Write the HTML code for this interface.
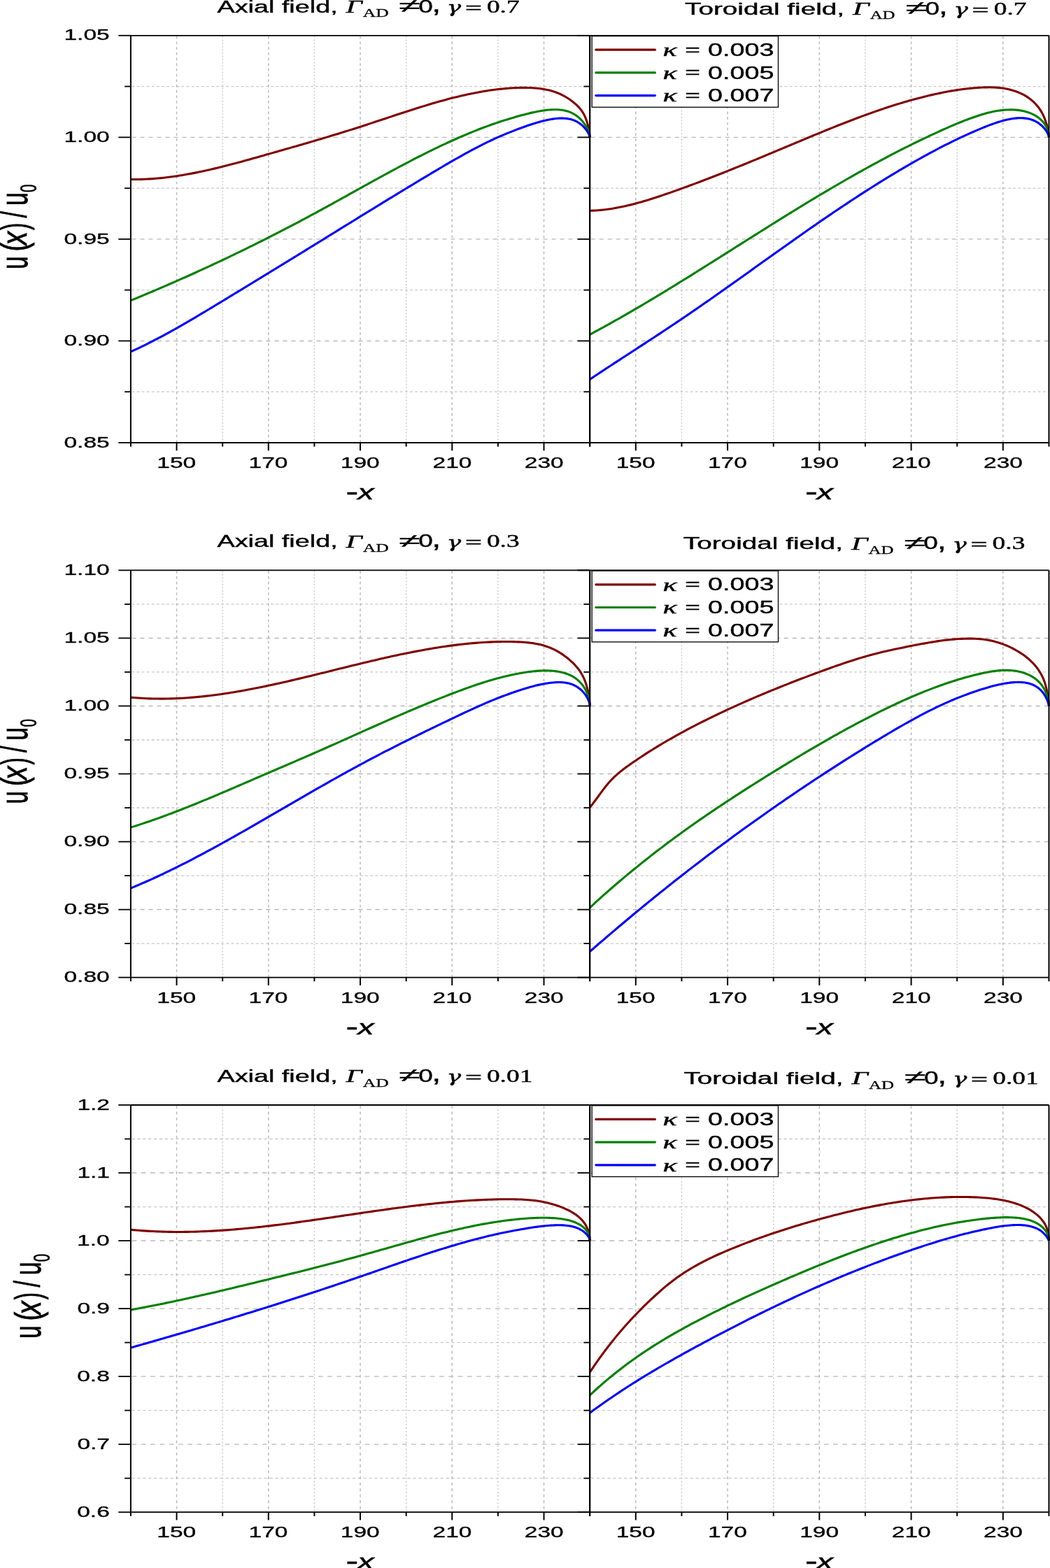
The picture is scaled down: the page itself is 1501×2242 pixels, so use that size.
<!DOCTYPE html>
<html><head><meta charset="utf-8"><title>u(x)/u0 profiles</title>
<style>html,body{margin:0;padding:0;background:#fff;} svg{display:block;}</style></head>
<body><svg xmlns="http://www.w3.org/2000/svg" width="1501" height="2242" viewBox="0 0 1501 2242">
<rect x="0" y="0" width="1501" height="2242" fill="#fff"/>
<line x1="188.40" y1="560.22" x2="843.15" y2="560.22" stroke="#c8c8c8" stroke-width="1.3" stroke-dasharray="3.90 3.20"/>
<line x1="188.40" y1="487.45" x2="843.15" y2="487.45" stroke="#b8b8b8" stroke-width="1.4" stroke-dasharray="6.10 5.90"/>
<line x1="188.40" y1="414.67" x2="843.15" y2="414.67" stroke="#c8c8c8" stroke-width="1.3" stroke-dasharray="3.90 3.20"/>
<line x1="188.40" y1="341.90" x2="843.15" y2="341.90" stroke="#b8b8b8" stroke-width="1.4" stroke-dasharray="6.10 5.90"/>
<line x1="188.40" y1="269.13" x2="843.15" y2="269.13" stroke="#c8c8c8" stroke-width="1.3" stroke-dasharray="3.90 3.20"/>
<line x1="188.40" y1="196.35" x2="843.15" y2="196.35" stroke="#b8b8b8" stroke-width="1.4" stroke-dasharray="6.10 5.90"/>
<line x1="188.40" y1="123.58" x2="843.15" y2="123.58" stroke="#c8c8c8" stroke-width="1.3" stroke-dasharray="3.90 3.20"/>
<line x1="252.53" y1="51.80" x2="252.53" y2="633.00" stroke="#b8b8b8" stroke-width="1.5" stroke-dasharray="3.60 4.10"/>
<line x1="318.15" y1="51.80" x2="318.15" y2="633.00" stroke="#c8c8c8" stroke-width="1.3" stroke-dasharray="2.10 2.50"/>
<line x1="383.77" y1="51.80" x2="383.77" y2="633.00" stroke="#b8b8b8" stroke-width="1.5" stroke-dasharray="3.60 4.10"/>
<line x1="449.40" y1="51.80" x2="449.40" y2="633.00" stroke="#c8c8c8" stroke-width="1.3" stroke-dasharray="2.10 2.50"/>
<line x1="515.02" y1="51.80" x2="515.02" y2="633.00" stroke="#b8b8b8" stroke-width="1.5" stroke-dasharray="3.60 4.10"/>
<line x1="580.65" y1="51.80" x2="580.65" y2="633.00" stroke="#c8c8c8" stroke-width="1.3" stroke-dasharray="2.10 2.50"/>
<line x1="646.27" y1="51.80" x2="646.27" y2="633.00" stroke="#b8b8b8" stroke-width="1.5" stroke-dasharray="3.60 4.10"/>
<line x1="711.90" y1="51.80" x2="711.90" y2="633.00" stroke="#c8c8c8" stroke-width="1.3" stroke-dasharray="2.10 2.50"/>
<line x1="777.52" y1="51.80" x2="777.52" y2="633.00" stroke="#b8b8b8" stroke-width="1.5" stroke-dasharray="3.60 4.10"/>
<line x1="844.70" y1="560.22" x2="1499.45" y2="560.22" stroke="#c8c8c8" stroke-width="1.3" stroke-dasharray="3.90 3.20"/>
<line x1="844.70" y1="487.45" x2="1499.45" y2="487.45" stroke="#b8b8b8" stroke-width="1.4" stroke-dasharray="6.10 5.90"/>
<line x1="844.70" y1="414.67" x2="1499.45" y2="414.67" stroke="#c8c8c8" stroke-width="1.3" stroke-dasharray="3.90 3.20"/>
<line x1="844.70" y1="341.90" x2="1499.45" y2="341.90" stroke="#b8b8b8" stroke-width="1.4" stroke-dasharray="6.10 5.90"/>
<line x1="844.70" y1="269.13" x2="1499.45" y2="269.13" stroke="#c8c8c8" stroke-width="1.3" stroke-dasharray="3.90 3.20"/>
<line x1="844.70" y1="196.35" x2="1499.45" y2="196.35" stroke="#b8b8b8" stroke-width="1.4" stroke-dasharray="6.10 5.90"/>
<line x1="844.70" y1="123.58" x2="1499.45" y2="123.58" stroke="#c8c8c8" stroke-width="1.3" stroke-dasharray="3.90 3.20"/>
<line x1="908.83" y1="51.80" x2="908.83" y2="633.00" stroke="#b8b8b8" stroke-width="1.5" stroke-dasharray="3.60 4.10"/>
<line x1="974.45" y1="51.80" x2="974.45" y2="633.00" stroke="#c8c8c8" stroke-width="1.3" stroke-dasharray="2.10 2.50"/>
<line x1="1040.08" y1="51.80" x2="1040.08" y2="633.00" stroke="#b8b8b8" stroke-width="1.5" stroke-dasharray="3.60 4.10"/>
<line x1="1105.70" y1="51.80" x2="1105.70" y2="633.00" stroke="#c8c8c8" stroke-width="1.3" stroke-dasharray="2.10 2.50"/>
<line x1="1171.33" y1="51.80" x2="1171.33" y2="633.00" stroke="#b8b8b8" stroke-width="1.5" stroke-dasharray="3.60 4.10"/>
<line x1="1236.95" y1="51.80" x2="1236.95" y2="633.00" stroke="#c8c8c8" stroke-width="1.3" stroke-dasharray="2.10 2.50"/>
<line x1="1302.58" y1="51.80" x2="1302.58" y2="633.00" stroke="#b8b8b8" stroke-width="1.5" stroke-dasharray="3.60 4.10"/>
<line x1="1368.20" y1="51.80" x2="1368.20" y2="633.00" stroke="#c8c8c8" stroke-width="1.3" stroke-dasharray="2.10 2.50"/>
<line x1="1433.83" y1="51.80" x2="1433.83" y2="633.00" stroke="#b8b8b8" stroke-width="1.5" stroke-dasharray="3.60 4.10"/>
<line x1="188.40" y1="1349.08" x2="843.15" y2="1349.08" stroke="#c8c8c8" stroke-width="1.3" stroke-dasharray="3.90 3.20"/>
<line x1="188.40" y1="1300.57" x2="843.15" y2="1300.57" stroke="#b8b8b8" stroke-width="1.4" stroke-dasharray="6.10 5.90"/>
<line x1="188.40" y1="1252.05" x2="843.15" y2="1252.05" stroke="#c8c8c8" stroke-width="1.3" stroke-dasharray="3.90 3.20"/>
<line x1="188.40" y1="1203.53" x2="843.15" y2="1203.53" stroke="#b8b8b8" stroke-width="1.4" stroke-dasharray="6.10 5.90"/>
<line x1="188.40" y1="1155.02" x2="843.15" y2="1155.02" stroke="#c8c8c8" stroke-width="1.3" stroke-dasharray="3.90 3.20"/>
<line x1="188.40" y1="1106.50" x2="843.15" y2="1106.50" stroke="#b8b8b8" stroke-width="1.4" stroke-dasharray="6.10 5.90"/>
<line x1="188.40" y1="1057.98" x2="843.15" y2="1057.98" stroke="#c8c8c8" stroke-width="1.3" stroke-dasharray="3.90 3.20"/>
<line x1="188.40" y1="1009.47" x2="843.15" y2="1009.47" stroke="#b8b8b8" stroke-width="1.4" stroke-dasharray="6.10 5.90"/>
<line x1="188.40" y1="960.95" x2="843.15" y2="960.95" stroke="#c8c8c8" stroke-width="1.3" stroke-dasharray="3.90 3.20"/>
<line x1="188.40" y1="912.43" x2="843.15" y2="912.43" stroke="#b8b8b8" stroke-width="1.4" stroke-dasharray="6.10 5.90"/>
<line x1="188.40" y1="863.92" x2="843.15" y2="863.92" stroke="#c8c8c8" stroke-width="1.3" stroke-dasharray="3.90 3.20"/>
<line x1="252.53" y1="816.40" x2="252.53" y2="1397.60" stroke="#b8b8b8" stroke-width="1.5" stroke-dasharray="3.60 4.10"/>
<line x1="318.15" y1="816.40" x2="318.15" y2="1397.60" stroke="#c8c8c8" stroke-width="1.3" stroke-dasharray="2.10 2.50"/>
<line x1="383.77" y1="816.40" x2="383.77" y2="1397.60" stroke="#b8b8b8" stroke-width="1.5" stroke-dasharray="3.60 4.10"/>
<line x1="449.40" y1="816.40" x2="449.40" y2="1397.60" stroke="#c8c8c8" stroke-width="1.3" stroke-dasharray="2.10 2.50"/>
<line x1="515.02" y1="816.40" x2="515.02" y2="1397.60" stroke="#b8b8b8" stroke-width="1.5" stroke-dasharray="3.60 4.10"/>
<line x1="580.65" y1="816.40" x2="580.65" y2="1397.60" stroke="#c8c8c8" stroke-width="1.3" stroke-dasharray="2.10 2.50"/>
<line x1="646.27" y1="816.40" x2="646.27" y2="1397.60" stroke="#b8b8b8" stroke-width="1.5" stroke-dasharray="3.60 4.10"/>
<line x1="711.90" y1="816.40" x2="711.90" y2="1397.60" stroke="#c8c8c8" stroke-width="1.3" stroke-dasharray="2.10 2.50"/>
<line x1="777.52" y1="816.40" x2="777.52" y2="1397.60" stroke="#b8b8b8" stroke-width="1.5" stroke-dasharray="3.60 4.10"/>
<line x1="844.70" y1="1349.08" x2="1499.45" y2="1349.08" stroke="#c8c8c8" stroke-width="1.3" stroke-dasharray="3.90 3.20"/>
<line x1="844.70" y1="1300.57" x2="1499.45" y2="1300.57" stroke="#b8b8b8" stroke-width="1.4" stroke-dasharray="6.10 5.90"/>
<line x1="844.70" y1="1252.05" x2="1499.45" y2="1252.05" stroke="#c8c8c8" stroke-width="1.3" stroke-dasharray="3.90 3.20"/>
<line x1="844.70" y1="1203.53" x2="1499.45" y2="1203.53" stroke="#b8b8b8" stroke-width="1.4" stroke-dasharray="6.10 5.90"/>
<line x1="844.70" y1="1155.02" x2="1499.45" y2="1155.02" stroke="#c8c8c8" stroke-width="1.3" stroke-dasharray="3.90 3.20"/>
<line x1="844.70" y1="1106.50" x2="1499.45" y2="1106.50" stroke="#b8b8b8" stroke-width="1.4" stroke-dasharray="6.10 5.90"/>
<line x1="844.70" y1="1057.98" x2="1499.45" y2="1057.98" stroke="#c8c8c8" stroke-width="1.3" stroke-dasharray="3.90 3.20"/>
<line x1="844.70" y1="1009.47" x2="1499.45" y2="1009.47" stroke="#b8b8b8" stroke-width="1.4" stroke-dasharray="6.10 5.90"/>
<line x1="844.70" y1="960.95" x2="1499.45" y2="960.95" stroke="#c8c8c8" stroke-width="1.3" stroke-dasharray="3.90 3.20"/>
<line x1="844.70" y1="912.43" x2="1499.45" y2="912.43" stroke="#b8b8b8" stroke-width="1.4" stroke-dasharray="6.10 5.90"/>
<line x1="844.70" y1="863.92" x2="1499.45" y2="863.92" stroke="#c8c8c8" stroke-width="1.3" stroke-dasharray="3.90 3.20"/>
<line x1="908.83" y1="816.40" x2="908.83" y2="1397.60" stroke="#b8b8b8" stroke-width="1.5" stroke-dasharray="3.60 4.10"/>
<line x1="974.45" y1="816.40" x2="974.45" y2="1397.60" stroke="#c8c8c8" stroke-width="1.3" stroke-dasharray="2.10 2.50"/>
<line x1="1040.08" y1="816.40" x2="1040.08" y2="1397.60" stroke="#b8b8b8" stroke-width="1.5" stroke-dasharray="3.60 4.10"/>
<line x1="1105.70" y1="816.40" x2="1105.70" y2="1397.60" stroke="#c8c8c8" stroke-width="1.3" stroke-dasharray="2.10 2.50"/>
<line x1="1171.33" y1="816.40" x2="1171.33" y2="1397.60" stroke="#b8b8b8" stroke-width="1.5" stroke-dasharray="3.60 4.10"/>
<line x1="1236.95" y1="816.40" x2="1236.95" y2="1397.60" stroke="#c8c8c8" stroke-width="1.3" stroke-dasharray="2.10 2.50"/>
<line x1="1302.58" y1="816.40" x2="1302.58" y2="1397.60" stroke="#b8b8b8" stroke-width="1.5" stroke-dasharray="3.60 4.10"/>
<line x1="1368.20" y1="816.40" x2="1368.20" y2="1397.60" stroke="#c8c8c8" stroke-width="1.3" stroke-dasharray="2.10 2.50"/>
<line x1="1433.83" y1="816.40" x2="1433.83" y2="1397.60" stroke="#b8b8b8" stroke-width="1.5" stroke-dasharray="3.60 4.10"/>
<line x1="188.40" y1="2113.68" x2="843.15" y2="2113.68" stroke="#c8c8c8" stroke-width="1.3" stroke-dasharray="4.33 3.55"/>
<line x1="188.40" y1="2065.17" x2="843.15" y2="2065.17" stroke="#b8b8b8" stroke-width="1.4" stroke-dasharray="6.77 6.55"/>
<line x1="188.40" y1="2016.65" x2="843.15" y2="2016.65" stroke="#c8c8c8" stroke-width="1.3" stroke-dasharray="4.33 3.55"/>
<line x1="188.40" y1="1968.13" x2="843.15" y2="1968.13" stroke="#b8b8b8" stroke-width="1.4" stroke-dasharray="6.77 6.55"/>
<line x1="188.40" y1="1919.62" x2="843.15" y2="1919.62" stroke="#c8c8c8" stroke-width="1.3" stroke-dasharray="4.33 3.55"/>
<line x1="188.40" y1="1871.10" x2="843.15" y2="1871.10" stroke="#b8b8b8" stroke-width="1.4" stroke-dasharray="6.77 6.55"/>
<line x1="188.40" y1="1822.58" x2="843.15" y2="1822.58" stroke="#c8c8c8" stroke-width="1.3" stroke-dasharray="4.33 3.55"/>
<line x1="188.40" y1="1774.07" x2="843.15" y2="1774.07" stroke="#b8b8b8" stroke-width="1.4" stroke-dasharray="6.77 6.55"/>
<line x1="188.40" y1="1725.55" x2="843.15" y2="1725.55" stroke="#c8c8c8" stroke-width="1.3" stroke-dasharray="4.33 3.55"/>
<line x1="188.40" y1="1677.03" x2="843.15" y2="1677.03" stroke="#b8b8b8" stroke-width="1.4" stroke-dasharray="6.77 6.55"/>
<line x1="188.40" y1="1628.52" x2="843.15" y2="1628.52" stroke="#c8c8c8" stroke-width="1.3" stroke-dasharray="4.33 3.55"/>
<line x1="252.53" y1="1581.00" x2="252.53" y2="2162.20" stroke="#b8b8b8" stroke-width="1.5" stroke-dasharray="4.00 4.55"/>
<line x1="318.15" y1="1581.00" x2="318.15" y2="2162.20" stroke="#c8c8c8" stroke-width="1.3" stroke-dasharray="2.33 2.78"/>
<line x1="383.77" y1="1581.00" x2="383.77" y2="2162.20" stroke="#b8b8b8" stroke-width="1.5" stroke-dasharray="4.00 4.55"/>
<line x1="449.40" y1="1581.00" x2="449.40" y2="2162.20" stroke="#c8c8c8" stroke-width="1.3" stroke-dasharray="2.33 2.78"/>
<line x1="515.02" y1="1581.00" x2="515.02" y2="2162.20" stroke="#b8b8b8" stroke-width="1.5" stroke-dasharray="4.00 4.55"/>
<line x1="580.65" y1="1581.00" x2="580.65" y2="2162.20" stroke="#c8c8c8" stroke-width="1.3" stroke-dasharray="2.33 2.78"/>
<line x1="646.27" y1="1581.00" x2="646.27" y2="2162.20" stroke="#b8b8b8" stroke-width="1.5" stroke-dasharray="4.00 4.55"/>
<line x1="711.90" y1="1581.00" x2="711.90" y2="2162.20" stroke="#c8c8c8" stroke-width="1.3" stroke-dasharray="2.33 2.78"/>
<line x1="777.52" y1="1581.00" x2="777.52" y2="2162.20" stroke="#b8b8b8" stroke-width="1.5" stroke-dasharray="4.00 4.55"/>
<line x1="844.70" y1="2113.68" x2="1499.45" y2="2113.68" stroke="#c8c8c8" stroke-width="1.3" stroke-dasharray="4.33 3.55"/>
<line x1="844.70" y1="2065.17" x2="1499.45" y2="2065.17" stroke="#b8b8b8" stroke-width="1.4" stroke-dasharray="6.77 6.55"/>
<line x1="844.70" y1="2016.65" x2="1499.45" y2="2016.65" stroke="#c8c8c8" stroke-width="1.3" stroke-dasharray="4.33 3.55"/>
<line x1="844.70" y1="1968.13" x2="1499.45" y2="1968.13" stroke="#b8b8b8" stroke-width="1.4" stroke-dasharray="6.77 6.55"/>
<line x1="844.70" y1="1919.62" x2="1499.45" y2="1919.62" stroke="#c8c8c8" stroke-width="1.3" stroke-dasharray="4.33 3.55"/>
<line x1="844.70" y1="1871.10" x2="1499.45" y2="1871.10" stroke="#b8b8b8" stroke-width="1.4" stroke-dasharray="6.77 6.55"/>
<line x1="844.70" y1="1822.58" x2="1499.45" y2="1822.58" stroke="#c8c8c8" stroke-width="1.3" stroke-dasharray="4.33 3.55"/>
<line x1="844.70" y1="1774.07" x2="1499.45" y2="1774.07" stroke="#b8b8b8" stroke-width="1.4" stroke-dasharray="6.77 6.55"/>
<line x1="844.70" y1="1725.55" x2="1499.45" y2="1725.55" stroke="#c8c8c8" stroke-width="1.3" stroke-dasharray="4.33 3.55"/>
<line x1="844.70" y1="1677.03" x2="1499.45" y2="1677.03" stroke="#b8b8b8" stroke-width="1.4" stroke-dasharray="6.77 6.55"/>
<line x1="844.70" y1="1628.52" x2="1499.45" y2="1628.52" stroke="#c8c8c8" stroke-width="1.3" stroke-dasharray="4.33 3.55"/>
<line x1="908.83" y1="1581.00" x2="908.83" y2="2162.20" stroke="#b8b8b8" stroke-width="1.5" stroke-dasharray="4.00 4.55"/>
<line x1="974.45" y1="1581.00" x2="974.45" y2="2162.20" stroke="#c8c8c8" stroke-width="1.3" stroke-dasharray="2.33 2.78"/>
<line x1="1040.08" y1="1581.00" x2="1040.08" y2="2162.20" stroke="#b8b8b8" stroke-width="1.5" stroke-dasharray="4.00 4.55"/>
<line x1="1105.70" y1="1581.00" x2="1105.70" y2="2162.20" stroke="#c8c8c8" stroke-width="1.3" stroke-dasharray="2.33 2.78"/>
<line x1="1171.33" y1="1581.00" x2="1171.33" y2="2162.20" stroke="#b8b8b8" stroke-width="1.5" stroke-dasharray="4.00 4.55"/>
<line x1="1236.95" y1="1581.00" x2="1236.95" y2="2162.20" stroke="#c8c8c8" stroke-width="1.3" stroke-dasharray="2.33 2.78"/>
<line x1="1302.58" y1="1581.00" x2="1302.58" y2="2162.20" stroke="#b8b8b8" stroke-width="1.5" stroke-dasharray="4.00 4.55"/>
<line x1="1368.20" y1="1581.00" x2="1368.20" y2="2162.20" stroke="#c8c8c8" stroke-width="1.3" stroke-dasharray="2.33 2.78"/>
<line x1="1433.83" y1="1581.00" x2="1433.83" y2="2162.20" stroke="#b8b8b8" stroke-width="1.5" stroke-dasharray="4.00 4.55"/>
<path d="M186.90,256.45 L190.78,256.50 L194.66,256.49 L198.54,256.45 L202.42,256.36 L206.31,256.23 L210.19,256.05 L214.07,255.84 L217.95,255.59 L221.83,255.29 L225.71,254.96 L229.59,254.60 L233.48,254.19 L237.36,253.75 L241.24,253.28 L245.12,252.78 L249.00,252.24 L252.88,251.67 L256.76,251.07 L260.64,250.44 L264.52,249.78 L268.41,249.09 L272.29,248.38 L276.17,247.64 L280.05,246.87 L283.93,246.08 L287.81,245.27 L291.69,244.43 L295.57,243.57 L299.46,242.70 L303.34,241.80 L307.22,240.88 L311.10,239.95 L314.98,239.00 L318.86,238.03 L322.74,237.04 L326.62,236.05 L330.51,235.04 L334.39,234.01 L338.27,232.98 L342.15,231.93 L346.03,230.88 L349.91,229.81 L353.79,228.74 L357.67,227.66 L361.56,226.57 L365.44,225.48 L369.32,224.39 L373.20,223.29 L377.08,222.19 L380.96,221.08 L384.84,219.98 L388.72,218.88 L392.61,217.77 L396.49,216.67 L400.37,215.56 L404.25,214.45 L408.13,213.34 L412.01,212.23 L415.89,211.12 L419.77,210.01 L423.66,208.89 L427.54,207.77 L431.42,206.64 L435.30,205.52 L439.18,204.39 L443.06,203.26 L446.94,202.12 L450.82,200.98 L454.71,199.83 L458.59,198.68 L462.47,197.53 L466.35,196.36 L470.23,195.20 L474.11,194.03 L477.99,192.85 L481.87,191.66 L485.76,190.47 L489.64,189.28 L493.52,188.07 L497.40,186.86 L501.28,185.64 L505.16,184.42 L509.04,183.18 L512.92,181.94 L516.81,180.69 L520.69,179.43 L524.57,178.16 L528.45,176.89 L532.33,175.61 L536.21,174.33 L540.09,173.05 L543.97,171.76 L547.86,170.47 L551.74,169.18 L555.62,167.89 L559.50,166.60 L563.38,165.31 L567.26,164.03 L571.14,162.75 L575.02,161.48 L578.91,160.22 L582.79,158.96 L586.67,157.71 L590.55,156.46 L594.43,155.23 L598.31,154.01 L602.19,152.80 L606.07,151.61 L609.96,150.43 L613.84,149.26 L617.72,148.11 L621.60,146.97 L625.48,145.86 L629.36,144.76 L633.24,143.68 L637.12,142.63 L641.01,141.59 L644.89,140.58 L648.77,139.59 L652.65,138.63 L656.53,137.69 L660.41,136.78 L664.29,135.90 L668.17,135.04 L672.06,134.21 L675.94,133.42 L679.82,132.65 L683.70,131.92 L687.58,131.22 L691.46,130.56 L695.34,129.93 L699.22,129.33 L703.11,128.78 L706.99,128.26 L710.87,127.78 L714.75,127.34 L718.63,126.95 L722.51,126.59 L726.37,126.28 L730.17,126.01 L733.90,125.78 L737.58,125.61 L741.18,125.48 L744.73,125.39 L748.21,125.36 L751.64,125.37 L754.99,125.44 L758.29,125.56 L761.52,125.73 L764.69,125.95 L767.80,126.23 L770.84,126.56 L773.82,126.95 L776.74,127.40 L779.60,127.91 L782.39,128.48 L785.12,129.11 L787.79,129.80 L790.39,130.56 L792.94,131.37 L795.42,132.26 L797.83,133.20 L800.19,134.21 L802.48,135.27 L804.71,136.38 L806.87,137.54 L808.97,138.74 L811.01,139.99 L812.99,141.27 L814.90,142.58 L816.76,143.92 L818.55,145.28 L820.27,146.67 L821.93,148.07 L823.54,149.49 L825.07,150.93 L826.55,152.41 L827.96,153.92 L829.31,155.48 L830.60,157.10 L831.82,158.78 L832.98,160.53 L834.08,162.37 L835.12,164.29 L836.09,166.30 L837.00,168.43 L837.85,170.65 L838.63,172.96 L839.35,175.32 L840.01,177.71 L840.61,180.09 L841.14,182.43 L841.61,184.71 L842.02,186.89 L842.37,188.95 L842.65,190.86 L842.87,192.58 L843.02,194.09 L843.12,195.35 L843.15,196.35" fill="none" stroke="#800000" stroke-width="3.1" stroke-linejoin="round"/>
<path d="M186.90,429.69 L190.78,428.10 L194.66,426.50 L198.54,424.89 L202.42,423.27 L206.31,421.65 L210.19,420.02 L214.07,418.39 L217.95,416.74 L221.83,415.09 L225.71,413.44 L229.59,411.77 L233.48,410.10 L237.36,408.42 L241.24,406.74 L245.12,405.04 L249.00,403.34 L252.88,401.64 L256.76,399.92 L260.64,398.20 L264.52,396.47 L268.41,394.73 L272.29,392.99 L276.17,391.24 L280.05,389.48 L283.93,387.71 L287.81,385.94 L291.69,384.16 L295.57,382.37 L299.46,380.57 L303.34,378.77 L307.22,376.96 L311.10,375.14 L314.98,373.32 L318.86,371.48 L322.74,369.64 L326.62,367.79 L330.51,365.94 L334.39,364.07 L338.27,362.20 L342.15,360.32 L346.03,358.44 L349.91,356.54 L353.79,354.64 L357.67,352.73 L361.56,350.81 L365.44,348.89 L369.32,346.95 L373.20,345.01 L377.08,343.06 L380.96,341.11 L384.84,339.14 L388.72,337.17 L392.61,335.19 L396.49,333.20 L400.37,331.21 L404.25,329.20 L408.13,327.19 L412.01,325.17 L415.89,323.14 L419.77,321.11 L423.66,319.07 L427.54,317.01 L431.42,314.95 L435.30,312.89 L439.18,310.81 L443.06,308.73 L446.94,306.63 L450.82,304.53 L454.71,302.43 L458.59,300.31 L462.47,298.19 L466.35,296.06 L470.23,293.93 L474.11,291.79 L477.99,289.64 L481.87,287.50 L485.76,285.35 L489.64,283.19 L493.52,281.04 L497.40,278.88 L501.28,276.73 L505.16,274.57 L509.04,272.41 L512.92,270.26 L516.81,268.10 L520.69,265.95 L524.57,263.80 L528.45,261.65 L532.33,259.51 L536.21,257.37 L540.09,255.24 L543.97,253.11 L547.86,250.99 L551.74,248.88 L555.62,246.77 L559.50,244.67 L563.38,242.58 L567.26,240.50 L571.14,238.43 L575.02,236.37 L578.91,234.32 L582.79,232.28 L586.67,230.25 L590.55,228.24 L594.43,226.24 L598.31,224.25 L602.19,222.28 L606.07,220.33 L609.96,218.39 L613.84,216.46 L617.72,214.55 L621.60,212.66 L625.48,210.79 L629.36,208.94 L633.24,207.11 L637.12,205.29 L641.01,203.50 L644.89,201.73 L648.77,199.97 L652.65,198.25 L656.53,196.54 L660.41,194.86 L664.29,193.20 L668.17,191.57 L672.06,189.96 L675.94,188.37 L679.82,186.82 L683.70,185.29 L687.58,183.79 L691.46,182.31 L695.34,180.87 L699.22,179.45 L703.11,178.07 L706.99,176.71 L710.87,175.39 L714.75,174.09 L718.63,172.84 L722.51,171.61 L726.37,170.42 L730.17,169.27 L733.90,168.16 L737.58,167.09 L741.18,166.06 L744.73,165.08 L748.21,164.14 L751.64,163.25 L754.99,162.41 L758.29,161.62 L761.52,160.88 L764.69,160.19 L767.80,159.57 L770.84,158.99 L773.82,158.48 L776.74,158.03 L779.60,157.64 L782.39,157.31 L785.12,157.05 L787.79,156.86 L790.39,156.73 L792.94,156.68 L795.42,156.70 L797.83,156.79 L800.19,156.95 L802.48,157.19 L804.71,157.51 L806.87,157.91 L808.97,158.40 L811.01,158.96 L812.99,159.61 L814.90,160.34 L816.76,161.16 L818.55,162.04 L820.27,163.00 L821.93,164.02 L823.54,165.09 L825.07,166.23 L826.55,167.41 L827.96,168.63 L829.31,169.89 L830.60,171.19 L831.82,172.51 L832.98,173.86 L834.08,175.23 L835.12,176.61 L836.09,177.99 L837.00,179.38 L837.85,180.77 L838.63,182.15 L839.35,183.52 L840.01,184.88 L840.61,186.21 L841.14,187.51 L841.61,188.78 L842.02,190.02 L842.37,191.21 L842.65,192.35 L842.87,193.44 L843.02,194.48 L843.12,195.45 L843.15,196.35" fill="none" stroke="#008000" stroke-width="3.1" stroke-linejoin="round"/>
<path d="M186.90,502.90 L190.78,501.15 L194.66,499.35 L198.54,497.53 L202.42,495.67 L206.31,493.78 L210.19,491.86 L214.07,489.91 L217.95,487.93 L221.83,485.93 L225.71,483.90 L229.59,481.84 L233.48,479.76 L237.36,477.66 L241.24,475.54 L245.12,473.39 L249.00,471.23 L252.88,469.04 L256.76,466.84 L260.64,464.62 L264.52,462.38 L268.41,460.13 L272.29,457.87 L276.17,455.59 L280.05,453.30 L283.93,451.00 L287.81,448.69 L291.69,446.37 L295.57,444.04 L299.46,441.71 L303.34,439.37 L307.22,437.02 L311.10,434.67 L314.98,432.32 L318.86,429.96 L322.74,427.61 L326.62,425.25 L330.51,422.89 L334.39,420.54 L338.27,418.18 L342.15,415.82 L346.03,413.45 L349.91,411.09 L353.79,408.73 L357.67,406.36 L361.56,404.00 L365.44,401.63 L369.32,399.26 L373.20,396.89 L377.08,394.52 L380.96,392.15 L384.84,389.78 L388.72,387.40 L392.61,385.03 L396.49,382.65 L400.37,380.27 L404.25,377.89 L408.13,375.51 L412.01,373.13 L415.89,370.75 L419.77,368.37 L423.66,365.98 L427.54,363.60 L431.42,361.21 L435.30,358.82 L439.18,356.44 L443.06,354.04 L446.94,351.65 L450.82,349.26 L454.71,346.87 L458.59,344.47 L462.47,342.08 L466.35,339.68 L470.23,337.28 L474.11,334.89 L477.99,332.49 L481.87,330.09 L485.76,327.69 L489.64,325.29 L493.52,322.90 L497.40,320.50 L501.28,318.10 L505.16,315.71 L509.04,313.31 L512.92,310.92 L516.81,308.53 L520.69,306.13 L524.57,303.74 L528.45,301.35 L532.33,298.97 L536.21,296.58 L540.09,294.20 L543.97,291.82 L547.86,289.44 L551.74,287.06 L555.62,284.69 L559.50,282.32 L563.38,279.95 L567.26,277.58 L571.14,275.22 L575.02,272.86 L578.91,270.51 L582.79,268.15 L586.67,265.80 L590.55,263.46 L594.43,261.12 L598.31,258.78 L602.19,256.45 L606.07,254.12 L609.96,251.80 L613.84,249.48 L617.72,247.16 L621.60,244.85 L625.48,242.55 L629.36,240.25 L633.24,237.97 L637.12,235.69 L641.01,233.43 L644.89,231.18 L648.77,228.94 L652.65,226.73 L656.53,224.53 L660.41,222.35 L664.29,220.19 L668.17,218.06 L672.06,215.96 L675.94,213.88 L679.82,211.83 L683.70,209.81 L687.58,207.83 L691.46,205.87 L695.34,203.96 L699.22,202.08 L703.11,200.24 L706.99,198.44 L710.87,196.68 L714.75,194.97 L718.63,193.30 L722.51,191.68 L726.37,190.10 L730.17,188.58 L733.90,187.10 L737.58,185.67 L741.18,184.30 L744.73,182.97 L748.21,181.70 L751.64,180.49 L754.99,179.33 L758.29,178.23 L761.52,177.18 L764.69,176.19 L767.80,175.27 L770.84,174.40 L773.82,173.60 L776.74,172.85 L779.60,172.17 L782.39,171.56 L785.12,171.01 L787.79,170.53 L790.39,170.12 L792.94,169.77 L795.42,169.50 L797.83,169.29 L800.19,169.16 L802.48,169.10 L804.71,169.11 L806.87,169.20 L808.97,169.37 L811.01,169.61 L812.99,169.93 L814.90,170.33 L816.76,170.81 L818.55,171.36 L820.27,171.98 L821.93,172.67 L823.54,173.42 L825.07,174.22 L826.55,175.08 L827.96,175.98 L829.31,176.93 L830.60,177.91 L831.82,178.93 L832.98,179.97 L834.08,181.04 L835.12,182.13 L836.09,183.22 L837.00,184.32 L837.85,185.42 L838.63,186.51 L839.35,187.58 L840.01,188.63 L840.61,189.65 L841.14,190.63 L841.61,191.57 L842.02,192.46 L842.37,193.29 L842.65,194.06 L842.87,194.76 L843.02,195.38 L843.12,195.91 L843.15,196.36" fill="none" stroke="#0000ff" stroke-width="3.1" stroke-linejoin="round"/>
<path d="M843.20,301.29 L847.08,301.17 L850.96,300.97 L854.84,300.71 L858.73,300.38 L862.61,299.98 L866.49,299.52 L870.37,299.00 L874.25,298.42 L878.13,297.78 L882.01,297.09 L885.89,296.34 L889.78,295.54 L893.66,294.70 L897.54,293.81 L901.42,292.87 L905.30,291.89 L909.18,290.87 L913.06,289.81 L916.94,288.71 L920.83,287.58 L924.71,286.42 L928.59,285.23 L932.47,284.01 L936.35,282.76 L940.23,281.49 L944.11,280.20 L947.99,278.89 L951.88,277.56 L955.76,276.22 L959.64,274.86 L963.52,273.49 L967.40,272.11 L971.28,270.72 L975.16,269.32 L979.04,267.91 L982.92,266.48 L986.81,265.05 L990.69,263.61 L994.57,262.16 L998.45,260.70 L1002.33,259.23 L1006.21,257.76 L1010.09,256.27 L1013.97,254.78 L1017.86,253.27 L1021.74,251.76 L1025.62,250.25 L1029.50,248.72 L1033.38,247.19 L1037.26,245.65 L1041.14,244.11 L1045.03,242.56 L1048.91,241.00 L1052.79,239.43 L1056.67,237.86 L1060.55,236.29 L1064.43,234.71 L1068.31,233.12 L1072.19,231.53 L1076.08,229.94 L1079.96,228.34 L1083.84,226.73 L1087.72,225.12 L1091.60,223.51 L1095.48,221.90 L1099.36,220.28 L1103.24,218.66 L1107.12,217.03 L1111.01,215.41 L1114.89,213.78 L1118.77,212.15 L1122.65,210.52 L1126.53,208.88 L1130.41,207.25 L1134.29,205.62 L1138.17,203.99 L1142.06,202.36 L1145.94,200.74 L1149.82,199.11 L1153.70,197.49 L1157.58,195.88 L1161.46,194.27 L1165.34,192.66 L1169.23,191.06 L1173.11,189.46 L1176.99,187.87 L1180.87,186.29 L1184.75,184.72 L1188.63,183.15 L1192.51,181.59 L1196.39,180.04 L1200.28,178.50 L1204.16,176.97 L1208.04,175.46 L1211.92,173.95 L1215.80,172.45 L1219.68,170.97 L1223.56,169.50 L1227.44,168.04 L1231.33,166.60 L1235.21,165.17 L1239.09,163.75 L1242.97,162.35 L1246.85,160.97 L1250.73,159.60 L1254.61,158.25 L1258.49,156.92 L1262.38,155.61 L1266.26,154.31 L1270.14,153.04 L1274.02,151.78 L1277.90,150.54 L1281.78,149.33 L1285.66,148.13 L1289.54,146.96 L1293.42,145.81 L1297.31,144.68 L1301.19,143.57 L1305.07,142.49 L1308.95,141.43 L1312.83,140.40 L1316.71,139.40 L1320.59,138.42 L1324.47,137.46 L1328.36,136.53 L1332.24,135.63 L1336.12,134.76 L1340.00,133.92 L1343.88,133.11 L1347.76,132.32 L1351.64,131.57 L1355.53,130.84 L1359.41,130.15 L1363.29,129.50 L1367.17,128.88 L1371.05,128.30 L1374.93,127.75 L1378.81,127.25 L1382.67,126.79 L1386.47,126.37 L1390.20,126.00 L1393.88,125.68 L1397.48,125.41 L1401.03,125.18 L1404.51,125.01 L1407.94,124.89 L1411.29,124.83 L1414.59,124.82 L1417.82,124.88 L1420.99,124.99 L1424.10,125.16 L1427.14,125.40 L1430.12,125.70 L1433.04,126.07 L1435.90,126.51 L1438.69,127.01 L1441.42,127.58 L1444.09,128.21 L1446.69,128.90 L1449.24,129.66 L1451.72,130.48 L1454.13,131.36 L1456.49,132.30 L1458.78,133.30 L1461.01,134.36 L1463.17,135.47 L1465.27,136.65 L1467.31,137.88 L1469.29,139.16 L1471.20,140.50 L1473.06,141.90 L1474.85,143.35 L1476.57,144.85 L1478.23,146.41 L1479.84,148.03 L1481.37,149.70 L1482.85,151.42 L1484.26,153.20 L1485.61,155.03 L1486.90,156.92 L1488.12,158.87 L1489.28,160.87 L1490.38,162.93 L1491.42,165.04 L1492.39,167.20 L1493.30,169.41 L1494.15,171.65 L1494.93,173.90 L1495.65,176.15 L1496.31,178.38 L1496.91,180.58 L1497.44,182.73 L1497.91,184.81 L1498.32,186.82 L1498.67,188.73 L1498.95,190.54 L1499.17,192.22 L1499.32,193.76 L1499.42,195.14 L1499.45,196.35" fill="none" stroke="#800000" stroke-width="3.1" stroke-linejoin="round"/>
<path d="M843.20,478.33 L847.08,476.26 L850.96,474.17 L854.84,472.07 L858.73,469.96 L862.61,467.84 L866.49,465.70 L870.37,463.55 L874.25,461.38 L878.13,459.21 L882.01,457.02 L885.89,454.82 L889.78,452.60 L893.66,450.38 L897.54,448.14 L901.42,445.90 L905.30,443.64 L909.18,441.38 L913.06,439.10 L916.94,436.81 L920.83,434.52 L924.71,432.21 L928.59,429.90 L932.47,427.57 L936.35,425.24 L940.23,422.91 L944.11,420.56 L947.99,418.20 L951.88,415.84 L955.76,413.47 L959.64,411.10 L963.52,408.72 L967.40,406.33 L971.28,403.94 L975.16,401.54 L979.04,399.13 L982.92,396.72 L986.81,394.31 L990.69,391.89 L994.57,389.47 L998.45,387.04 L1002.33,384.61 L1006.21,382.18 L1010.09,379.74 L1013.97,377.30 L1017.86,374.86 L1021.74,372.41 L1025.62,369.97 L1029.50,367.52 L1033.38,365.07 L1037.26,362.62 L1041.14,360.16 L1045.03,357.71 L1048.91,355.26 L1052.79,352.80 L1056.67,350.35 L1060.55,347.90 L1064.43,345.45 L1068.31,343.00 L1072.19,340.55 L1076.08,338.10 L1079.96,335.65 L1083.84,333.21 L1087.72,330.77 L1091.60,328.33 L1095.48,325.89 L1099.36,323.46 L1103.24,321.03 L1107.12,318.60 L1111.01,316.18 L1114.89,313.76 L1118.77,311.35 L1122.65,308.94 L1126.53,306.54 L1130.41,304.14 L1134.29,301.75 L1138.17,299.37 L1142.06,296.99 L1145.94,294.61 L1149.82,292.25 L1153.70,289.89 L1157.58,287.53 L1161.46,285.19 L1165.34,282.85 L1169.23,280.53 L1173.11,278.21 L1176.99,275.89 L1180.87,273.59 L1184.75,271.30 L1188.63,269.01 L1192.51,266.74 L1196.39,264.47 L1200.28,262.22 L1204.16,259.97 L1208.04,257.74 L1211.92,255.51 L1215.80,253.30 L1219.68,251.09 L1223.56,248.90 L1227.44,246.72 L1231.33,244.55 L1235.21,242.39 L1239.09,240.24 L1242.97,238.10 L1246.85,235.98 L1250.73,233.87 L1254.61,231.77 L1258.49,229.68 L1262.38,227.60 L1266.26,225.54 L1270.14,223.49 L1274.02,221.46 L1277.90,219.43 L1281.78,217.43 L1285.66,215.43 L1289.54,213.45 L1293.42,211.48 L1297.31,209.53 L1301.19,207.59 L1305.07,205.67 L1308.95,203.76 L1312.83,201.87 L1316.71,199.99 L1320.59,198.12 L1324.47,196.28 L1328.36,194.44 L1332.24,192.63 L1336.12,190.83 L1340.00,189.04 L1343.88,187.28 L1347.76,185.53 L1351.64,183.79 L1355.53,182.08 L1359.41,180.39 L1363.29,178.72 L1367.17,177.09 L1371.05,175.50 L1374.93,173.94 L1378.81,172.43 L1382.67,170.97 L1386.47,169.56 L1390.20,168.21 L1393.88,166.92 L1397.48,165.70 L1401.03,164.55 L1404.51,163.48 L1407.94,162.48 L1411.29,161.57 L1414.59,160.74 L1417.82,160.00 L1420.99,159.35 L1424.10,158.77 L1427.14,158.28 L1430.12,157.86 L1433.04,157.52 L1435.90,157.26 L1438.69,157.06 L1441.42,156.94 L1444.09,156.89 L1446.69,156.91 L1449.24,157.00 L1451.72,157.15 L1454.13,157.37 L1456.49,157.64 L1458.78,157.98 L1461.01,158.37 L1463.17,158.83 L1465.27,159.34 L1467.31,159.90 L1469.29,160.51 L1471.20,161.17 L1473.06,161.89 L1474.85,162.65 L1476.57,163.45 L1478.23,164.30 L1479.84,165.19 L1481.37,166.13 L1482.85,167.10 L1484.26,168.10 L1485.61,169.15 L1486.90,170.22 L1488.12,171.33 L1489.28,172.47 L1490.38,173.64 L1491.42,174.84 L1492.39,176.06 L1493.30,177.31 L1494.15,178.58 L1494.93,179.87 L1495.65,181.18 L1496.31,182.50 L1496.91,183.84 L1497.44,185.20 L1497.91,186.57 L1498.32,187.95 L1498.67,189.33 L1498.95,190.73 L1499.17,192.13 L1499.32,193.54 L1499.42,194.95 L1499.45,196.36" fill="none" stroke="#008000" stroke-width="3.1" stroke-linejoin="round"/>
<path d="M843.20,542.48 L847.08,539.89 L850.96,537.31 L854.84,534.73 L858.73,532.16 L862.61,529.60 L866.49,527.05 L870.37,524.50 L874.25,521.96 L878.13,519.42 L882.01,516.88 L885.89,514.35 L889.78,511.82 L893.66,509.29 L897.54,506.76 L901.42,504.24 L905.30,501.71 L909.18,499.18 L913.06,496.66 L916.94,494.13 L920.83,491.60 L924.71,489.07 L928.59,486.53 L932.47,483.99 L936.35,481.44 L940.23,478.90 L944.11,476.34 L947.99,473.78 L951.88,471.21 L955.76,468.64 L959.64,466.05 L963.52,463.46 L967.40,460.86 L971.28,458.25 L975.16,455.63 L979.04,453.00 L982.92,450.35 L986.81,447.70 L990.69,445.04 L994.57,442.37 L998.45,439.69 L1002.33,437.01 L1006.21,434.31 L1010.09,431.61 L1013.97,428.90 L1017.86,426.18 L1021.74,423.46 L1025.62,420.73 L1029.50,417.99 L1033.38,415.25 L1037.26,412.51 L1041.14,409.76 L1045.03,407.00 L1048.91,404.25 L1052.79,401.49 L1056.67,398.72 L1060.55,395.95 L1064.43,393.19 L1068.31,390.42 L1072.19,387.64 L1076.08,384.87 L1079.96,382.10 L1083.84,379.32 L1087.72,376.55 L1091.60,373.77 L1095.48,371.00 L1099.36,368.23 L1103.24,365.46 L1107.12,362.69 L1111.01,359.93 L1114.89,357.16 L1118.77,354.40 L1122.65,351.65 L1126.53,348.90 L1130.41,346.15 L1134.29,343.41 L1138.17,340.67 L1142.06,337.94 L1145.94,335.21 L1149.82,332.49 L1153.70,329.77 L1157.58,327.07 L1161.46,324.37 L1165.34,321.68 L1169.23,318.99 L1173.11,316.32 L1176.99,313.65 L1180.87,310.99 L1184.75,308.35 L1188.63,305.71 L1192.51,303.08 L1196.39,300.46 L1200.28,297.85 L1204.16,295.26 L1208.04,292.67 L1211.92,290.10 L1215.80,287.53 L1219.68,284.98 L1223.56,282.44 L1227.44,279.92 L1231.33,277.40 L1235.21,274.90 L1239.09,272.41 L1242.97,269.94 L1246.85,267.48 L1250.73,265.03 L1254.61,262.60 L1258.49,260.18 L1262.38,257.78 L1266.26,255.39 L1270.14,253.02 L1274.02,250.66 L1277.90,248.32 L1281.78,246.00 L1285.66,243.69 L1289.54,241.40 L1293.42,239.12 L1297.31,236.86 L1301.19,234.62 L1305.07,232.40 L1308.95,230.20 L1312.83,228.01 L1316.71,225.84 L1320.59,223.70 L1324.47,221.57 L1328.36,219.46 L1332.24,217.37 L1336.12,215.30 L1340.00,213.25 L1343.88,211.22 L1347.76,209.21 L1351.64,207.22 L1355.53,205.26 L1359.41,203.32 L1363.29,201.41 L1367.17,199.52 L1371.05,197.67 L1374.93,195.86 L1378.81,194.08 L1382.67,192.34 L1386.47,190.65 L1390.20,189.00 L1393.88,187.39 L1397.48,185.84 L1401.03,184.34 L1404.51,182.90 L1407.94,181.51 L1411.29,180.18 L1414.59,178.92 L1417.82,177.72 L1420.99,176.59 L1424.10,175.52 L1427.14,174.53 L1430.12,173.61 L1433.04,172.77 L1435.90,172.00 L1438.69,171.31 L1441.42,170.70 L1444.09,170.17 L1446.69,169.73 L1449.24,169.36 L1451.72,169.08 L1454.13,168.89 L1456.49,168.77 L1458.78,168.73 L1461.01,168.78 L1463.17,168.90 L1465.27,169.09 L1467.31,169.36 L1469.29,169.70 L1471.20,170.12 L1473.06,170.60 L1474.85,171.15 L1476.57,171.77 L1478.23,172.46 L1479.84,173.20 L1481.37,174.01 L1482.85,174.86 L1484.26,175.76 L1485.61,176.71 L1486.90,177.68 L1488.12,178.69 L1489.28,179.72 L1490.38,180.78 L1491.42,181.84 L1492.39,182.92 L1493.30,183.99 L1494.15,185.07 L1494.93,186.13 L1495.65,187.19 L1496.31,188.22 L1496.91,189.23 L1497.44,190.21 L1497.91,191.16 L1498.32,192.07 L1498.67,192.93 L1498.95,193.73 L1499.17,194.49 L1499.32,195.18 L1499.42,195.80 L1499.45,196.35" fill="none" stroke="#0000ff" stroke-width="3.1" stroke-linejoin="round"/>
<path d="M186.90,997.11 L190.78,997.46 L194.66,997.77 L198.54,998.05 L202.42,998.30 L206.31,998.51 L210.19,998.68 L214.07,998.83 L217.95,998.94 L221.83,999.02 L225.71,999.07 L229.59,999.09 L233.48,999.08 L237.36,999.04 L241.24,998.97 L245.12,998.87 L249.00,998.74 L252.88,998.58 L256.76,998.40 L260.64,998.19 L264.52,997.95 L268.41,997.69 L272.29,997.40 L276.17,997.09 L280.05,996.75 L283.93,996.39 L287.81,996.00 L291.69,995.59 L295.57,995.16 L299.46,994.71 L303.34,994.23 L307.22,993.74 L311.10,993.22 L314.98,992.68 L318.86,992.12 L322.74,991.55 L326.62,990.95 L330.51,990.34 L334.39,989.70 L338.27,989.05 L342.15,988.39 L346.03,987.70 L349.91,987.01 L353.79,986.29 L357.67,985.56 L361.56,984.82 L365.44,984.06 L369.32,983.28 L373.20,982.50 L377.08,981.70 L380.96,980.89 L384.84,980.07 L388.72,979.23 L392.61,978.39 L396.49,977.54 L400.37,976.67 L404.25,975.80 L408.13,974.91 L412.01,974.02 L415.89,973.12 L419.77,972.22 L423.66,971.30 L427.54,970.38 L431.42,969.46 L435.30,968.53 L439.18,967.59 L443.06,966.65 L446.94,965.70 L450.82,964.75 L454.71,963.80 L458.59,962.84 L462.47,961.89 L466.35,960.93 L470.23,959.97 L474.11,959.01 L477.99,958.04 L481.87,957.08 L485.76,956.12 L489.64,955.16 L493.52,954.20 L497.40,953.25 L501.28,952.29 L505.16,951.34 L509.04,950.39 L512.92,949.45 L516.81,948.51 L520.69,947.58 L524.57,946.65 L528.45,945.72 L532.33,944.81 L536.21,943.90 L540.09,942.99 L543.97,942.10 L547.86,941.21 L551.74,940.33 L555.62,939.47 L559.50,938.61 L563.38,937.76 L567.26,936.92 L571.14,936.09 L575.02,935.27 L578.91,934.47 L582.79,933.68 L586.67,932.90 L590.55,932.13 L594.43,931.38 L598.31,930.65 L602.19,929.92 L606.07,929.22 L609.96,928.53 L613.84,927.85 L617.72,927.19 L621.60,926.55 L625.48,925.93 L629.36,925.33 L633.24,924.74 L637.12,924.17 L641.01,923.63 L644.89,923.10 L648.77,922.59 L652.65,922.11 L656.53,921.64 L660.41,921.20 L664.29,920.78 L668.17,920.38 L672.06,920.01 L675.94,919.66 L679.82,919.34 L683.70,919.03 L687.58,918.76 L691.46,918.51 L695.34,918.29 L699.22,918.09 L703.11,917.92 L706.99,917.78 L710.87,917.67 L714.75,917.58 L718.63,917.53 L722.51,917.50 L726.37,917.51 L730.17,917.54 L733.90,917.61 L737.58,917.71 L741.18,917.85 L744.73,918.02 L748.21,918.25 L751.64,918.52 L754.99,918.84 L758.29,919.22 L761.52,919.65 L764.69,920.15 L767.80,920.72 L770.84,921.36 L773.82,922.07 L776.74,922.85 L779.60,923.72 L782.39,924.67 L785.12,925.69 L787.79,926.79 L790.39,927.95 L792.94,929.18 L795.42,930.46 L797.83,931.81 L800.19,933.20 L802.48,934.64 L804.71,936.13 L806.87,937.66 L808.97,939.22 L811.01,940.82 L812.99,942.45 L814.90,944.11 L816.76,945.78 L818.55,947.47 L820.27,949.18 L821.93,950.92 L823.54,952.68 L825.07,954.47 L826.55,956.31 L827.96,958.19 L829.31,960.12 L830.60,962.12 L831.82,964.18 L832.98,966.31 L834.08,968.52 L835.12,970.82 L836.09,973.20 L837.00,975.68 L837.85,978.23 L838.63,980.84 L839.35,983.48 L840.01,986.15 L840.61,988.81 L841.14,991.46 L841.61,994.08 L842.02,996.64 L842.37,999.11 L842.65,1001.49 L842.87,1003.73 L843.02,1005.83 L843.12,1007.75 L843.15,1009.47" fill="none" stroke="#800000" stroke-width="3.1" stroke-linejoin="round"/>
<path d="M186.90,1183.10 L190.78,1181.89 L194.66,1180.66 L198.54,1179.40 L202.42,1178.13 L206.31,1176.83 L210.19,1175.52 L214.07,1174.19 L217.95,1172.84 L221.83,1171.47 L225.71,1170.09 L229.59,1168.69 L233.48,1167.28 L237.36,1165.84 L241.24,1164.40 L245.12,1162.94 L249.00,1161.46 L252.88,1159.97 L256.76,1158.47 L260.64,1156.95 L264.52,1155.43 L268.41,1153.89 L272.29,1152.34 L276.17,1150.77 L280.05,1149.20 L283.93,1147.62 L287.81,1146.03 L291.69,1144.43 L295.57,1142.82 L299.46,1141.20 L303.34,1139.58 L307.22,1137.95 L311.10,1136.31 L314.98,1134.67 L318.86,1133.02 L322.74,1131.36 L326.62,1129.70 L330.51,1128.04 L334.39,1126.37 L338.27,1124.70 L342.15,1123.02 L346.03,1121.35 L349.91,1119.67 L353.79,1117.99 L357.67,1116.31 L361.56,1114.63 L365.44,1112.94 L369.32,1111.26 L373.20,1109.58 L377.08,1107.91 L380.96,1106.23 L384.84,1104.55 L388.72,1102.88 L392.61,1101.21 L396.49,1099.54 L400.37,1097.88 L404.25,1096.21 L408.13,1094.55 L412.01,1092.88 L415.89,1091.21 L419.77,1089.55 L423.66,1087.88 L427.54,1086.20 L431.42,1084.53 L435.30,1082.85 L439.18,1081.17 L443.06,1079.48 L446.94,1077.79 L450.82,1076.09 L454.71,1074.38 L458.59,1072.67 L462.47,1070.96 L466.35,1069.24 L470.23,1067.51 L474.11,1065.79 L477.99,1064.05 L481.87,1062.32 L485.76,1060.58 L489.64,1058.85 L493.52,1057.11 L497.40,1055.36 L501.28,1053.62 L505.16,1051.88 L509.04,1050.14 L512.92,1048.40 L516.81,1046.66 L520.69,1044.92 L524.57,1043.19 L528.45,1041.46 L532.33,1039.73 L536.21,1038.00 L540.09,1036.28 L543.97,1034.56 L547.86,1032.84 L551.74,1031.13 L555.62,1029.42 L559.50,1027.72 L563.38,1026.03 L567.26,1024.34 L571.14,1022.65 L575.02,1020.98 L578.91,1019.31 L582.79,1017.64 L586.67,1015.99 L590.55,1014.34 L594.43,1012.70 L598.31,1011.07 L602.19,1009.45 L606.07,1007.84 L609.96,1006.23 L613.84,1004.64 L617.72,1003.06 L621.60,1001.49 L625.48,999.93 L629.36,998.38 L633.24,996.84 L637.12,995.32 L641.01,993.80 L644.89,992.30 L648.77,990.81 L652.65,989.34 L656.53,987.88 L660.41,986.44 L664.29,985.02 L668.17,983.62 L672.06,982.25 L675.94,980.89 L679.82,979.56 L683.70,978.26 L687.58,976.99 L691.46,975.74 L695.34,974.53 L699.22,973.35 L703.11,972.21 L706.99,971.11 L710.87,970.04 L714.75,969.01 L718.63,968.02 L722.51,967.08 L726.37,966.18 L730.17,965.33 L733.90,964.52 L737.58,963.76 L741.18,963.06 L744.73,962.41 L748.21,961.81 L751.64,961.26 L754.99,960.78 L758.29,960.34 L761.52,959.97 L764.69,959.64 L767.80,959.38 L770.84,959.17 L773.82,959.02 L776.74,958.92 L779.60,958.88 L782.39,958.90 L785.12,958.98 L787.79,959.11 L790.39,959.30 L792.94,959.55 L795.42,959.86 L797.83,960.23 L800.19,960.66 L802.48,961.14 L804.71,961.69 L806.87,962.29 L808.97,962.96 L811.01,963.68 L812.99,964.47 L814.90,965.32 L816.76,966.22 L818.55,967.19 L820.27,968.22 L821.93,969.31 L823.54,970.45 L825.07,971.65 L826.55,972.91 L827.96,974.21 L829.31,975.57 L830.60,976.97 L831.82,978.41 L832.98,979.91 L834.08,981.44 L835.12,983.01 L836.09,984.62 L837.00,986.26 L837.85,987.93 L838.63,989.63 L839.35,991.34 L840.01,993.06 L840.61,994.78 L841.14,996.50 L841.61,998.22 L842.02,999.92 L842.37,1001.60 L842.65,1003.25 L842.87,1004.87 L843.02,1006.45 L843.12,1007.99 L843.15,1009.47" fill="none" stroke="#008000" stroke-width="3.1" stroke-linejoin="round"/>
<path d="M186.90,1269.99 L190.78,1268.38 L194.66,1266.76 L198.54,1265.11 L202.42,1263.44 L206.31,1261.75 L210.19,1260.03 L214.07,1258.30 L217.95,1256.54 L221.83,1254.77 L225.71,1252.97 L229.59,1251.16 L233.48,1249.32 L237.36,1247.47 L241.24,1245.60 L245.12,1243.71 L249.00,1241.80 L252.88,1239.88 L256.76,1237.94 L260.64,1235.99 L264.52,1234.01 L268.41,1232.03 L272.29,1230.03 L276.17,1228.01 L280.05,1225.98 L283.93,1223.94 L287.81,1221.88 L291.69,1219.81 L295.57,1217.73 L299.46,1215.64 L303.34,1213.54 L307.22,1211.42 L311.10,1209.29 L314.98,1207.16 L318.86,1205.01 L322.74,1202.86 L326.62,1200.69 L330.51,1198.52 L334.39,1196.34 L338.27,1194.15 L342.15,1191.95 L346.03,1189.75 L349.91,1187.54 L353.79,1185.32 L357.67,1183.10 L361.56,1180.88 L365.44,1178.65 L369.32,1176.41 L373.20,1174.17 L377.08,1171.93 L380.96,1169.68 L384.84,1167.43 L388.72,1165.18 L392.61,1162.93 L396.49,1160.67 L400.37,1158.42 L404.25,1156.16 L408.13,1153.90 L412.01,1151.65 L415.89,1149.39 L419.77,1147.14 L423.66,1144.89 L427.54,1142.63 L431.42,1140.39 L435.30,1138.14 L439.18,1135.90 L443.06,1133.66 L446.94,1131.42 L450.82,1129.19 L454.71,1126.96 L458.59,1124.74 L462.47,1122.53 L466.35,1120.32 L470.23,1118.12 L474.11,1115.92 L477.99,1113.73 L481.87,1111.55 L485.76,1109.38 L489.64,1107.21 L493.52,1105.06 L497.40,1102.91 L501.28,1100.78 L505.16,1098.65 L509.04,1096.53 L512.92,1094.43 L516.81,1092.34 L520.69,1090.26 L524.57,1088.19 L528.45,1086.13 L532.33,1084.08 L536.21,1082.04 L540.09,1080.02 L543.97,1078.00 L547.86,1075.99 L551.74,1073.99 L555.62,1072.01 L559.50,1070.03 L563.38,1068.05 L567.26,1066.09 L571.14,1064.14 L575.02,1062.19 L578.91,1060.25 L582.79,1058.32 L586.67,1056.39 L590.55,1054.47 L594.43,1052.56 L598.31,1050.65 L602.19,1048.75 L606.07,1046.86 L609.96,1044.97 L613.84,1043.08 L617.72,1041.20 L621.60,1039.33 L625.48,1037.46 L629.36,1035.59 L633.24,1033.72 L637.12,1031.86 L641.01,1030.01 L644.89,1028.15 L648.77,1026.30 L652.65,1024.45 L656.53,1022.61 L660.41,1020.77 L664.29,1018.95 L668.17,1017.13 L672.06,1015.33 L675.94,1013.55 L679.82,1011.78 L683.70,1010.03 L687.58,1008.31 L691.46,1006.60 L695.34,1004.93 L699.22,1003.28 L703.11,1001.66 L706.99,1000.07 L710.87,998.52 L714.75,997.00 L718.63,995.52 L722.51,994.08 L726.37,992.68 L730.17,991.33 L733.90,990.02 L737.58,988.76 L741.18,987.54 L744.73,986.38 L748.21,985.28 L751.64,984.23 L754.99,983.23 L758.29,982.29 L761.52,981.41 L764.69,980.59 L767.80,979.83 L770.84,979.12 L773.82,978.48 L776.74,977.90 L779.60,977.38 L782.39,976.92 L785.12,976.53 L787.79,976.20 L790.39,975.94 L792.94,975.74 L795.42,975.61 L797.83,975.55 L800.19,975.55 L802.48,975.63 L804.71,975.77 L806.87,975.99 L808.97,976.28 L811.01,976.64 L812.99,977.07 L814.90,977.58 L816.76,978.16 L818.55,978.82 L820.27,979.55 L821.93,980.35 L823.54,981.22 L825.07,982.15 L826.55,983.13 L827.96,984.17 L829.31,985.24 L830.60,986.36 L831.82,987.52 L832.98,988.71 L834.08,989.92 L835.12,991.15 L836.09,992.39 L837.00,993.65 L837.85,994.91 L838.63,996.17 L839.35,997.43 L840.01,998.67 L840.61,999.90 L841.14,1001.11 L841.61,1002.30 L842.02,1003.46 L842.37,1004.58 L842.65,1005.66 L842.87,1006.69 L843.02,1007.67 L843.12,1008.60 L843.15,1009.47" fill="none" stroke="#0000ff" stroke-width="3.1" stroke-linejoin="round"/>
<path d="M843.20,1154.48 L847.08,1149.66 L850.96,1144.55 L854.84,1139.26 L858.73,1133.93 L862.61,1128.70 L866.49,1123.69 L870.37,1119.02 L874.25,1114.78 L878.13,1110.90 L882.01,1107.35 L885.89,1104.07 L889.78,1101.00 L893.66,1098.09 L897.54,1095.29 L901.42,1092.54 L905.30,1089.84 L909.18,1087.17 L913.06,1084.54 L916.94,1081.96 L920.83,1079.41 L924.71,1076.89 L928.59,1074.42 L932.47,1071.97 L936.35,1069.56 L940.23,1067.19 L944.11,1064.85 L947.99,1062.53 L951.88,1060.25 L955.76,1058.00 L959.64,1055.78 L963.52,1053.58 L967.40,1051.41 L971.28,1049.27 L975.16,1047.15 L979.04,1045.06 L982.92,1042.99 L986.81,1040.94 L990.69,1038.91 L994.57,1036.91 L998.45,1034.92 L1002.33,1032.95 L1006.21,1031.01 L1010.09,1029.07 L1013.97,1027.16 L1017.86,1025.26 L1021.74,1023.38 L1025.62,1021.51 L1029.50,1019.66 L1033.38,1017.83 L1037.26,1016.01 L1041.14,1014.20 L1045.03,1012.41 L1048.91,1010.63 L1052.79,1008.87 L1056.67,1007.12 L1060.55,1005.39 L1064.43,1003.67 L1068.31,1001.96 L1072.19,1000.27 L1076.08,998.59 L1079.96,996.92 L1083.84,995.27 L1087.72,993.62 L1091.60,991.99 L1095.48,990.37 L1099.36,988.77 L1103.24,987.17 L1107.12,985.59 L1111.01,984.01 L1114.89,982.45 L1118.77,980.90 L1122.65,979.36 L1126.53,977.82 L1130.41,976.30 L1134.29,974.79 L1138.17,973.29 L1142.06,971.79 L1145.94,970.31 L1149.82,968.83 L1153.70,967.37 L1157.58,965.91 L1161.46,964.46 L1165.34,963.01 L1169.23,961.58 L1173.11,960.15 L1176.99,958.73 L1180.87,957.32 L1184.75,955.92 L1188.63,954.53 L1192.51,953.15 L1196.39,951.79 L1200.28,950.45 L1204.16,949.12 L1208.04,947.81 L1211.92,946.51 L1215.80,945.24 L1219.68,943.99 L1223.56,942.77 L1227.44,941.57 L1231.33,940.39 L1235.21,939.25 L1239.09,938.13 L1242.97,937.04 L1246.85,935.98 L1250.73,934.95 L1254.61,933.96 L1258.49,933.00 L1262.38,932.06 L1266.26,931.15 L1270.14,930.27 L1274.02,929.41 L1277.90,928.57 L1281.78,927.75 L1285.66,926.94 L1289.54,926.15 L1293.42,925.37 L1297.31,924.60 L1301.19,923.84 L1305.07,923.08 L1308.95,922.33 L1312.83,921.58 L1316.71,920.85 L1320.59,920.14 L1324.47,919.44 L1328.36,918.76 L1332.24,918.11 L1336.12,917.49 L1340.00,916.89 L1343.88,916.33 L1347.76,915.80 L1351.64,915.31 L1355.53,914.86 L1359.41,914.45 L1363.29,914.09 L1367.17,913.78 L1371.05,913.53 L1374.93,913.33 L1378.81,913.19 L1382.67,913.11 L1386.47,913.09 L1390.20,913.14 L1393.88,913.27 L1397.48,913.46 L1401.03,913.73 L1404.51,914.08 L1407.94,914.52 L1411.29,915.03 L1414.59,915.63 L1417.82,916.31 L1420.99,917.06 L1424.10,917.89 L1427.14,918.79 L1430.12,919.75 L1433.04,920.77 L1435.90,921.85 L1438.69,922.99 L1441.42,924.17 L1444.09,925.40 L1446.69,926.68 L1449.24,928.00 L1451.72,929.35 L1454.13,930.73 L1456.49,932.15 L1458.78,933.59 L1461.01,935.06 L1463.17,936.57 L1465.27,938.10 L1467.31,939.67 L1469.29,941.27 L1471.20,942.91 L1473.06,944.58 L1474.85,946.30 L1476.57,948.05 L1478.23,949.84 L1479.84,951.68 L1481.37,953.57 L1482.85,955.49 L1484.26,957.47 L1485.61,959.49 L1486.90,961.57 L1488.12,963.69 L1489.28,965.88 L1490.38,968.12 L1491.42,970.45 L1492.39,972.85 L1493.30,975.36 L1494.15,977.97 L1494.93,980.69 L1495.65,983.53 L1496.31,986.46 L1496.91,989.42 L1497.44,992.37 L1497.91,995.26 L1498.32,998.03 L1498.67,1000.64 L1498.95,1003.04 L1499.17,1005.17 L1499.32,1006.98 L1499.42,1008.43 L1499.45,1009.47" fill="none" stroke="#800000" stroke-width="3.1" stroke-linejoin="round"/>
<path d="M843.20,1297.87 L847.08,1294.28 L850.96,1290.73 L854.84,1287.20 L858.73,1283.70 L862.61,1280.22 L866.49,1276.78 L870.37,1273.36 L874.25,1269.97 L878.13,1266.60 L882.01,1263.26 L885.89,1259.95 L889.78,1256.66 L893.66,1253.40 L897.54,1250.16 L901.42,1246.95 L905.30,1243.76 L909.18,1240.60 L913.06,1237.45 L916.94,1234.34 L920.83,1231.24 L924.71,1228.17 L928.59,1225.11 L932.47,1222.09 L936.35,1219.08 L940.23,1216.09 L944.11,1213.12 L947.99,1210.18 L951.88,1207.25 L955.76,1204.35 L959.64,1201.46 L963.52,1198.59 L967.40,1195.74 L971.28,1192.91 L975.16,1190.10 L979.04,1187.31 L982.92,1184.53 L986.81,1181.77 L990.69,1179.03 L994.57,1176.30 L998.45,1173.59 L1002.33,1170.89 L1006.21,1168.21 L1010.09,1165.55 L1013.97,1162.90 L1017.86,1160.26 L1021.74,1157.64 L1025.62,1155.03 L1029.50,1152.44 L1033.38,1149.86 L1037.26,1147.29 L1041.14,1144.73 L1045.03,1142.19 L1048.91,1139.65 L1052.79,1137.13 L1056.67,1134.62 L1060.55,1132.12 L1064.43,1129.63 L1068.31,1127.15 L1072.19,1124.68 L1076.08,1122.22 L1079.96,1119.77 L1083.84,1117.33 L1087.72,1114.89 L1091.60,1112.47 L1095.48,1110.05 L1099.36,1107.64 L1103.24,1105.23 L1107.12,1102.83 L1111.01,1100.44 L1114.89,1098.06 L1118.77,1095.68 L1122.65,1093.31 L1126.53,1090.94 L1130.41,1088.59 L1134.29,1086.24 L1138.17,1083.90 L1142.06,1081.58 L1145.94,1079.26 L1149.82,1076.94 L1153.70,1074.64 L1157.58,1072.35 L1161.46,1070.07 L1165.34,1067.80 L1169.23,1065.54 L1173.11,1063.29 L1176.99,1061.05 L1180.87,1058.83 L1184.75,1056.61 L1188.63,1054.41 L1192.51,1052.22 L1196.39,1050.05 L1200.28,1047.89 L1204.16,1045.74 L1208.04,1043.60 L1211.92,1041.48 L1215.80,1039.37 L1219.68,1037.28 L1223.56,1035.20 L1227.44,1033.13 L1231.33,1031.09 L1235.21,1029.05 L1239.09,1027.04 L1242.97,1025.04 L1246.85,1023.05 L1250.73,1021.09 L1254.61,1019.14 L1258.49,1017.21 L1262.38,1015.29 L1266.26,1013.40 L1270.14,1011.52 L1274.02,1009.67 L1277.90,1007.83 L1281.78,1006.02 L1285.66,1004.22 L1289.54,1002.45 L1293.42,1000.70 L1297.31,998.98 L1301.19,997.28 L1305.07,995.60 L1308.95,993.95 L1312.83,992.32 L1316.71,990.72 L1320.59,989.15 L1324.47,987.60 L1328.36,986.08 L1332.24,984.59 L1336.12,983.13 L1340.00,981.69 L1343.88,980.29 L1347.76,978.92 L1351.64,977.57 L1355.53,976.26 L1359.41,974.98 L1363.29,973.73 L1367.17,972.52 L1371.05,971.34 L1374.93,970.20 L1378.81,969.09 L1382.67,968.02 L1386.47,967.00 L1390.20,966.02 L1393.88,965.09 L1397.48,964.20 L1401.03,963.37 L1404.51,962.60 L1407.94,961.88 L1411.29,961.22 L1414.59,960.62 L1417.82,960.09 L1420.99,959.62 L1424.10,959.22 L1427.14,958.89 L1430.12,958.64 L1433.04,958.46 L1435.90,958.36 L1438.69,958.34 L1441.42,958.39 L1444.09,958.52 L1446.69,958.71 L1449.24,958.98 L1451.72,959.32 L1454.13,959.73 L1456.49,960.20 L1458.78,960.74 L1461.01,961.34 L1463.17,961.99 L1465.27,962.71 L1467.31,963.49 L1469.29,964.32 L1471.20,965.20 L1473.06,966.14 L1474.85,967.12 L1476.57,968.16 L1478.23,969.25 L1479.84,970.38 L1481.37,971.57 L1482.85,972.81 L1484.26,974.10 L1485.61,975.45 L1486.90,976.84 L1488.12,978.29 L1489.28,979.80 L1490.38,981.36 L1491.42,982.97 L1492.39,984.64 L1493.30,986.36 L1494.15,988.11 L1494.93,989.90 L1495.65,991.70 L1496.31,993.51 L1496.91,995.31 L1497.44,997.10 L1497.91,998.86 L1498.32,1000.58 L1498.67,1002.25 L1498.95,1003.86 L1499.17,1005.40 L1499.32,1006.85 L1499.42,1008.21 L1499.45,1009.47" fill="none" stroke="#008000" stroke-width="3.1" stroke-linejoin="round"/>
<path d="M843.20,1360.67 L847.08,1357.28 L850.96,1353.91 L854.84,1350.54 L858.73,1347.18 L862.61,1343.83 L866.49,1340.50 L870.37,1337.17 L874.25,1333.86 L878.13,1330.56 L882.01,1327.27 L885.89,1323.99 L889.78,1320.72 L893.66,1317.46 L897.54,1314.21 L901.42,1310.97 L905.30,1307.74 L909.18,1304.53 L913.06,1301.32 L916.94,1298.12 L920.83,1294.94 L924.71,1291.76 L928.59,1288.60 L932.47,1285.45 L936.35,1282.30 L940.23,1279.17 L944.11,1276.05 L947.99,1272.94 L951.88,1269.84 L955.76,1266.75 L959.64,1263.66 L963.52,1260.59 L967.40,1257.53 L971.28,1254.48 L975.16,1251.45 L979.04,1248.42 L982.92,1245.40 L986.81,1242.39 L990.69,1239.39 L994.57,1236.40 L998.45,1233.42 L1002.33,1230.45 L1006.21,1227.49 L1010.09,1224.55 L1013.97,1221.61 L1017.86,1218.68 L1021.74,1215.76 L1025.62,1212.85 L1029.50,1209.95 L1033.38,1207.07 L1037.26,1204.19 L1041.14,1201.32 L1045.03,1198.46 L1048.91,1195.61 L1052.79,1192.77 L1056.67,1189.94 L1060.55,1187.12 L1064.43,1184.31 L1068.31,1181.51 L1072.19,1178.72 L1076.08,1175.93 L1079.96,1173.16 L1083.84,1170.40 L1087.72,1167.65 L1091.60,1164.90 L1095.48,1162.17 L1099.36,1159.44 L1103.24,1156.73 L1107.12,1154.02 L1111.01,1151.33 L1114.89,1148.64 L1118.77,1145.96 L1122.65,1143.30 L1126.53,1140.64 L1130.41,1137.99 L1134.29,1135.35 L1138.17,1132.72 L1142.06,1130.09 L1145.94,1127.48 L1149.82,1124.88 L1153.70,1122.28 L1157.58,1119.70 L1161.46,1117.12 L1165.34,1114.55 L1169.23,1112.00 L1173.11,1109.45 L1176.99,1106.91 L1180.87,1104.38 L1184.75,1101.86 L1188.63,1099.34 L1192.51,1096.84 L1196.39,1094.35 L1200.28,1091.86 L1204.16,1089.38 L1208.04,1086.92 L1211.92,1084.46 L1215.80,1082.02 L1219.68,1079.58 L1223.56,1077.15 L1227.44,1074.73 L1231.33,1072.32 L1235.21,1069.92 L1239.09,1067.53 L1242.97,1065.16 L1246.85,1062.79 L1250.73,1060.43 L1254.61,1058.08 L1258.49,1055.74 L1262.38,1053.41 L1266.26,1051.09 L1270.14,1048.78 L1274.02,1046.49 L1277.90,1044.21 L1281.78,1041.95 L1285.66,1039.70 L1289.54,1037.47 L1293.42,1035.27 L1297.31,1033.08 L1301.19,1030.91 L1305.07,1028.77 L1308.95,1026.65 L1312.83,1024.56 L1316.71,1022.49 L1320.59,1020.46 L1324.47,1018.45 L1328.36,1016.47 L1332.24,1014.53 L1336.12,1012.61 L1340.00,1010.73 L1343.88,1008.89 L1347.76,1007.08 L1351.64,1005.32 L1355.53,1003.59 L1359.41,1001.90 L1363.29,1000.25 L1367.17,998.64 L1371.05,997.08 L1374.93,995.57 L1378.81,994.10 L1382.67,992.68 L1386.47,991.31 L1390.20,989.98 L1393.88,988.71 L1397.48,987.50 L1401.03,986.33 L1404.51,985.22 L1407.94,984.17 L1411.29,983.17 L1414.59,982.23 L1417.82,981.35 L1420.99,980.53 L1424.10,979.76 L1427.14,979.06 L1430.12,978.41 L1433.04,977.83 L1435.90,977.31 L1438.69,976.85 L1441.42,976.45 L1444.09,976.12 L1446.69,975.85 L1449.24,975.64 L1451.72,975.50 L1454.13,975.43 L1456.49,975.42 L1458.78,975.48 L1461.01,975.61 L1463.17,975.81 L1465.27,976.08 L1467.31,976.41 L1469.29,976.82 L1471.20,977.30 L1473.06,977.85 L1474.85,978.47 L1476.57,979.17 L1478.23,979.94 L1479.84,980.78 L1481.37,981.69 L1482.85,982.67 L1484.26,983.71 L1485.61,984.80 L1486.90,985.95 L1488.12,987.15 L1489.28,988.41 L1490.38,989.70 L1491.42,991.04 L1492.39,992.42 L1493.30,993.83 L1494.15,995.25 L1494.93,996.68 L1495.65,998.10 L1496.31,999.50 L1496.91,1000.87 L1497.44,1002.19 L1497.91,1003.44 L1498.32,1004.63 L1498.67,1005.73 L1498.95,1006.73 L1499.17,1007.61 L1499.32,1008.37 L1499.42,1009.00 L1499.45,1009.47" fill="none" stroke="#0000ff" stroke-width="3.1" stroke-linejoin="round"/>
<path d="M186.90,1758.27 L190.78,1758.63 L194.66,1758.98 L198.54,1759.30 L202.42,1759.59 L206.31,1759.86 L210.19,1760.11 L214.07,1760.34 L217.95,1760.55 L221.83,1760.73 L225.71,1760.89 L229.59,1761.03 L233.48,1761.15 L237.36,1761.25 L241.24,1761.33 L245.12,1761.39 L249.00,1761.43 L252.88,1761.45 L256.76,1761.45 L260.64,1761.44 L264.52,1761.40 L268.41,1761.35 L272.29,1761.27 L276.17,1761.19 L280.05,1761.08 L283.93,1760.96 L287.81,1760.82 L291.69,1760.66 L295.57,1760.49 L299.46,1760.30 L303.34,1760.10 L307.22,1759.88 L311.10,1759.65 L314.98,1759.40 L318.86,1759.14 L322.74,1758.86 L326.62,1758.58 L330.51,1758.27 L334.39,1757.96 L338.27,1757.63 L342.15,1757.29 L346.03,1756.94 L349.91,1756.58 L353.79,1756.21 L357.67,1755.82 L361.56,1755.42 L365.44,1755.02 L369.32,1754.60 L373.20,1754.18 L377.08,1753.74 L380.96,1753.30 L384.84,1752.84 L388.72,1752.38 L392.61,1751.91 L396.49,1751.43 L400.37,1750.95 L404.25,1750.46 L408.13,1749.96 L412.01,1749.45 L415.89,1748.94 L419.77,1748.42 L423.66,1747.89 L427.54,1747.36 L431.42,1746.83 L435.30,1746.29 L439.18,1745.74 L443.06,1745.20 L446.94,1744.64 L450.82,1744.09 L454.71,1743.53 L458.59,1742.97 L462.47,1742.40 L466.35,1741.83 L470.23,1741.26 L474.11,1740.69 L477.99,1740.12 L481.87,1739.55 L485.76,1738.97 L489.64,1738.40 L493.52,1737.82 L497.40,1737.25 L501.28,1736.67 L505.16,1736.10 L509.04,1735.53 L512.92,1734.96 L516.81,1734.39 L520.69,1733.82 L524.57,1733.25 L528.45,1732.69 L532.33,1732.13 L536.21,1731.57 L540.09,1731.02 L543.97,1730.47 L547.86,1729.93 L551.74,1729.39 L555.62,1728.85 L559.50,1728.32 L563.38,1727.80 L567.26,1727.28 L571.14,1726.76 L575.02,1726.26 L578.91,1725.75 L582.79,1725.26 L586.67,1724.77 L590.55,1724.30 L594.43,1723.83 L598.31,1723.36 L602.19,1722.91 L606.07,1722.46 L609.96,1722.03 L613.84,1721.60 L617.72,1721.18 L621.60,1720.77 L625.48,1720.38 L629.36,1719.99 L633.24,1719.62 L637.12,1719.25 L641.01,1718.90 L644.89,1718.56 L648.77,1718.23 L652.65,1717.91 L656.53,1717.61 L660.41,1717.32 L664.29,1717.04 L668.17,1716.78 L672.06,1716.53 L675.94,1716.30 L679.82,1716.08 L683.70,1715.87 L687.58,1715.68 L691.46,1715.51 L695.34,1715.35 L699.22,1715.21 L703.11,1715.09 L706.99,1714.98 L710.87,1714.89 L714.75,1714.81 L718.63,1714.76 L722.51,1714.72 L726.37,1714.71 L730.17,1714.72 L733.90,1714.76 L737.58,1714.83 L741.18,1714.93 L744.73,1715.07 L748.21,1715.23 L751.64,1715.44 L754.99,1715.68 L758.29,1715.96 L761.52,1716.29 L764.69,1716.66 L767.80,1717.08 L770.84,1717.54 L773.82,1718.05 L776.74,1718.59 L779.60,1719.18 L782.39,1719.81 L785.12,1720.47 L787.79,1721.17 L790.39,1721.91 L792.94,1722.67 L795.42,1723.47 L797.83,1724.29 L800.19,1725.14 L802.48,1726.02 L804.71,1726.92 L806.87,1727.84 L808.97,1728.79 L811.01,1729.75 L812.99,1730.73 L814.90,1731.73 L816.76,1732.74 L818.55,1733.79 L820.27,1734.85 L821.93,1735.94 L823.54,1737.06 L825.07,1738.20 L826.55,1739.37 L827.96,1740.58 L829.31,1741.81 L830.60,1743.07 L831.82,1744.37 L832.98,1745.70 L834.08,1747.06 L835.12,1748.45 L836.09,1749.88 L837.00,1751.34 L837.85,1752.84 L838.63,1754.36 L839.35,1755.91 L840.01,1757.48 L840.61,1759.08 L841.14,1760.69 L841.61,1762.33 L842.02,1763.98 L842.37,1765.64 L842.65,1767.31 L842.87,1768.99 L843.02,1770.68 L843.12,1772.37 L843.15,1774.07" fill="none" stroke="#800000" stroke-width="3.1" stroke-linejoin="round"/>
<path d="M186.90,1872.98 L190.78,1872.27 L194.66,1871.55 L198.54,1870.82 L202.42,1870.08 L206.31,1869.34 L210.19,1868.59 L214.07,1867.83 L217.95,1867.06 L221.83,1866.29 L225.71,1865.50 L229.59,1864.71 L233.48,1863.92 L237.36,1863.11 L241.24,1862.30 L245.12,1861.48 L249.00,1860.66 L252.88,1859.83 L256.76,1858.99 L260.64,1858.15 L264.52,1857.30 L268.41,1856.45 L272.29,1855.59 L276.17,1854.73 L280.05,1853.86 L283.93,1852.98 L287.81,1852.10 L291.69,1851.22 L295.57,1850.33 L299.46,1849.44 L303.34,1848.54 L307.22,1847.64 L311.10,1846.73 L314.98,1845.82 L318.86,1844.91 L322.74,1843.99 L326.62,1843.07 L330.51,1842.15 L334.39,1841.22 L338.27,1840.29 L342.15,1839.36 L346.03,1838.43 L349.91,1837.49 L353.79,1836.55 L357.67,1835.61 L361.56,1834.67 L365.44,1833.72 L369.32,1832.77 L373.20,1831.83 L377.08,1830.88 L380.96,1829.93 L384.84,1828.97 L388.72,1828.02 L392.61,1827.07 L396.49,1826.11 L400.37,1825.16 L404.25,1824.20 L408.13,1823.24 L412.01,1822.28 L415.89,1821.31 L419.77,1820.35 L423.66,1819.38 L427.54,1818.41 L431.42,1817.44 L435.30,1816.46 L439.18,1815.48 L443.06,1814.50 L446.94,1813.51 L450.82,1812.52 L454.71,1811.53 L458.59,1810.53 L462.47,1809.53 L466.35,1808.53 L470.23,1807.52 L474.11,1806.50 L477.99,1805.48 L481.87,1804.46 L485.76,1803.43 L489.64,1802.40 L493.52,1801.36 L497.40,1800.32 L501.28,1799.27 L505.16,1798.21 L509.04,1797.15 L512.92,1796.08 L516.81,1795.01 L520.69,1793.93 L524.57,1792.85 L528.45,1791.76 L532.33,1790.66 L536.21,1789.57 L540.09,1788.47 L543.97,1787.36 L547.86,1786.26 L551.74,1785.15 L555.62,1784.05 L559.50,1782.94 L563.38,1781.84 L567.26,1780.74 L571.14,1779.64 L575.02,1778.54 L578.91,1777.44 L582.79,1776.36 L586.67,1775.27 L590.55,1774.19 L594.43,1773.12 L598.31,1772.05 L602.19,1770.99 L606.07,1769.94 L609.96,1768.90 L613.84,1767.86 L617.72,1766.84 L621.60,1765.83 L625.48,1764.83 L629.36,1763.84 L633.24,1762.86 L637.12,1761.89 L641.01,1760.94 L644.89,1760.01 L648.77,1759.09 L652.65,1758.18 L656.53,1757.29 L660.41,1756.42 L664.29,1755.57 L668.17,1754.73 L672.06,1753.91 L675.94,1753.11 L679.82,1752.34 L683.70,1751.58 L687.58,1750.84 L691.46,1750.13 L695.34,1749.44 L699.22,1748.77 L703.11,1748.13 L706.99,1747.51 L710.87,1746.92 L714.75,1746.35 L718.63,1745.81 L722.51,1745.30 L726.37,1744.81 L730.17,1744.35 L733.90,1743.93 L737.58,1743.53 L741.18,1743.16 L744.73,1742.82 L748.21,1742.52 L751.64,1742.24 L754.99,1742.00 L758.29,1741.79 L761.52,1741.62 L764.69,1741.47 L767.80,1741.36 L770.84,1741.28 L773.82,1741.23 L776.74,1741.21 L779.60,1741.23 L782.39,1741.27 L785.12,1741.36 L787.79,1741.47 L790.39,1741.61 L792.94,1741.79 L795.42,1742.00 L797.83,1742.24 L800.19,1742.52 L802.48,1742.83 L804.71,1743.17 L806.87,1743.54 L808.97,1743.95 L811.01,1744.38 L812.99,1744.86 L814.90,1745.36 L816.76,1745.90 L818.55,1746.47 L820.27,1747.07 L821.93,1747.71 L823.54,1748.37 L825.07,1749.07 L826.55,1749.80 L827.96,1750.56 L829.31,1751.35 L830.60,1752.17 L831.82,1753.02 L832.98,1753.90 L834.08,1754.80 L835.12,1755.74 L836.09,1756.70 L837.00,1757.68 L837.85,1758.70 L838.63,1759.74 L839.35,1760.80 L840.01,1761.89 L840.61,1763.01 L841.14,1764.15 L841.61,1765.31 L842.02,1766.49 L842.37,1767.70 L842.65,1768.93 L842.87,1770.18 L843.02,1771.46 L843.12,1772.75 L843.15,1774.07" fill="none" stroke="#008000" stroke-width="3.1" stroke-linejoin="round"/>
<path d="M186.90,1927.02 L190.78,1925.93 L194.66,1924.83 L198.54,1923.73 L202.42,1922.63 L206.31,1921.52 L210.19,1920.41 L214.07,1919.31 L217.95,1918.19 L221.83,1917.08 L225.71,1915.97 L229.59,1914.85 L233.48,1913.73 L237.36,1912.61 L241.24,1911.49 L245.12,1910.36 L249.00,1909.23 L252.88,1908.10 L256.76,1906.97 L260.64,1905.83 L264.52,1904.70 L268.41,1903.56 L272.29,1902.42 L276.17,1901.27 L280.05,1900.13 L283.93,1898.98 L287.81,1897.82 L291.69,1896.67 L295.57,1895.51 L299.46,1894.36 L303.34,1893.19 L307.22,1892.03 L311.10,1890.86 L314.98,1889.69 L318.86,1888.52 L322.74,1887.35 L326.62,1886.17 L330.51,1884.99 L334.39,1883.81 L338.27,1882.62 L342.15,1881.43 L346.03,1880.24 L349.91,1879.05 L353.79,1877.85 L357.67,1876.65 L361.56,1875.45 L365.44,1874.24 L369.32,1873.04 L373.20,1871.83 L377.08,1870.61 L380.96,1869.39 L384.84,1868.17 L388.72,1866.95 L392.61,1865.72 L396.49,1864.49 L400.37,1863.26 L404.25,1862.03 L408.13,1860.79 L412.01,1859.55 L415.89,1858.30 L419.77,1857.05 L423.66,1855.80 L427.54,1854.55 L431.42,1853.29 L435.30,1852.03 L439.18,1850.76 L443.06,1849.49 L446.94,1848.22 L450.82,1846.95 L454.71,1845.67 L458.59,1844.39 L462.47,1843.10 L466.35,1841.81 L470.23,1840.52 L474.11,1839.22 L477.99,1837.93 L481.87,1836.62 L485.76,1835.32 L489.64,1834.01 L493.52,1832.69 L497.40,1831.37 L501.28,1830.05 L505.16,1828.73 L509.04,1827.40 L512.92,1826.07 L516.81,1824.73 L520.69,1823.39 L524.57,1822.05 L528.45,1820.70 L532.33,1819.36 L536.21,1818.01 L540.09,1816.66 L543.97,1815.31 L547.86,1813.96 L551.74,1812.61 L555.62,1811.26 L559.50,1809.91 L563.38,1808.57 L567.26,1807.23 L571.14,1805.89 L575.02,1804.56 L578.91,1803.23 L582.79,1801.90 L586.67,1800.58 L590.55,1799.27 L594.43,1797.96 L598.31,1796.66 L602.19,1795.37 L606.07,1794.09 L609.96,1792.81 L613.84,1791.55 L617.72,1790.29 L621.60,1789.04 L625.48,1787.81 L629.36,1786.59 L633.24,1785.37 L637.12,1784.17 L641.01,1782.99 L644.89,1781.81 L648.77,1780.66 L652.65,1779.51 L656.53,1778.38 L660.41,1777.27 L664.29,1776.17 L668.17,1775.09 L672.06,1774.03 L675.94,1772.98 L679.82,1771.95 L683.70,1770.94 L687.58,1769.95 L691.46,1768.98 L695.34,1768.03 L699.22,1767.10 L703.11,1766.20 L706.99,1765.31 L710.87,1764.45 L714.75,1763.61 L718.63,1762.79 L722.51,1762.00 L726.37,1761.24 L730.17,1760.49 L733.90,1759.78 L737.58,1759.09 L741.18,1758.42 L744.73,1757.79 L748.21,1757.18 L751.64,1756.60 L754.99,1756.05 L758.29,1755.53 L761.52,1755.04 L764.69,1754.58 L767.80,1754.16 L770.84,1753.76 L773.82,1753.40 L776.74,1753.07 L779.60,1752.78 L782.39,1752.52 L785.12,1752.30 L787.79,1752.12 L790.39,1751.97 L792.94,1751.86 L795.42,1751.79 L797.83,1751.76 L800.19,1751.77 L802.48,1751.82 L804.71,1751.91 L806.87,1752.05 L808.97,1752.22 L811.01,1752.44 L812.99,1752.71 L814.90,1753.02 L816.76,1753.37 L818.55,1753.77 L820.27,1754.22 L821.93,1754.71 L823.54,1755.25 L825.07,1755.84 L826.55,1756.46 L827.96,1757.12 L829.31,1757.81 L830.60,1758.53 L831.82,1759.28 L832.98,1760.05 L834.08,1760.84 L835.12,1761.64 L836.09,1762.46 L837.00,1763.29 L837.85,1764.13 L838.63,1764.97 L839.35,1765.80 L840.01,1766.64 L840.61,1767.47 L841.14,1768.28 L841.61,1769.09 L842.02,1769.88 L842.37,1770.65 L842.65,1771.39 L842.87,1772.11 L843.02,1772.80 L843.12,1773.45 L843.15,1774.07" fill="none" stroke="#0000ff" stroke-width="3.1" stroke-linejoin="round"/>
<path d="M843.20,1962.13 L847.08,1956.32 L850.96,1950.64 L854.84,1945.09 L858.73,1939.67 L862.61,1934.37 L866.49,1929.20 L870.37,1924.13 L874.25,1919.19 L878.13,1914.35 L882.01,1909.62 L885.89,1904.99 L889.78,1900.46 L893.66,1896.03 L897.54,1891.70 L901.42,1887.45 L905.30,1883.29 L909.18,1879.22 L913.06,1875.22 L916.94,1871.30 L920.83,1867.45 L924.71,1863.68 L928.59,1859.97 L932.47,1856.32 L936.35,1852.74 L940.23,1849.23 L944.11,1845.79 L947.99,1842.43 L951.88,1839.16 L955.76,1835.99 L959.64,1832.92 L963.52,1829.97 L967.40,1827.11 L971.28,1824.37 L975.16,1821.72 L979.04,1819.16 L982.92,1816.69 L986.81,1814.31 L990.69,1812.01 L994.57,1809.79 L998.45,1807.64 L1002.33,1805.56 L1006.21,1803.54 L1010.09,1801.58 L1013.97,1799.68 L1017.86,1797.83 L1021.74,1796.02 L1025.62,1794.26 L1029.50,1792.53 L1033.38,1790.84 L1037.26,1789.17 L1041.14,1787.54 L1045.03,1785.92 L1048.91,1784.32 L1052.79,1782.75 L1056.67,1781.19 L1060.55,1779.66 L1064.43,1778.15 L1068.31,1776.65 L1072.19,1775.18 L1076.08,1773.73 L1079.96,1772.29 L1083.84,1770.87 L1087.72,1769.48 L1091.60,1768.09 L1095.48,1766.73 L1099.36,1765.39 L1103.24,1764.06 L1107.12,1762.75 L1111.01,1761.46 L1114.89,1760.18 L1118.77,1758.92 L1122.65,1757.67 L1126.53,1756.44 L1130.41,1755.22 L1134.29,1754.02 L1138.17,1752.84 L1142.06,1751.67 L1145.94,1750.51 L1149.82,1749.37 L1153.70,1748.24 L1157.58,1747.12 L1161.46,1746.01 L1165.34,1744.92 L1169.23,1743.84 L1173.11,1742.78 L1176.99,1741.72 L1180.87,1740.68 L1184.75,1739.65 L1188.63,1738.63 L1192.51,1737.62 L1196.39,1736.63 L1200.28,1735.65 L1204.16,1734.69 L1208.04,1733.74 L1211.92,1732.81 L1215.80,1731.89 L1219.68,1730.99 L1223.56,1730.10 L1227.44,1729.23 L1231.33,1728.38 L1235.21,1727.54 L1239.09,1726.72 L1242.97,1725.92 L1246.85,1725.13 L1250.73,1724.37 L1254.61,1723.62 L1258.49,1722.89 L1262.38,1722.18 L1266.26,1721.49 L1270.14,1720.82 L1274.02,1720.17 L1277.90,1719.54 L1281.78,1718.93 L1285.66,1718.35 L1289.54,1717.78 L1293.42,1717.24 L1297.31,1716.71 L1301.19,1716.21 L1305.07,1715.74 L1308.95,1715.28 L1312.83,1714.85 L1316.71,1714.45 L1320.59,1714.07 L1324.47,1713.71 L1328.36,1713.38 L1332.24,1713.07 L1336.12,1712.79 L1340.00,1712.53 L1343.88,1712.30 L1347.76,1712.10 L1351.64,1711.92 L1355.53,1711.77 L1359.41,1711.65 L1363.29,1711.55 L1367.17,1711.49 L1371.05,1711.45 L1374.93,1711.44 L1378.81,1711.46 L1382.67,1711.51 L1386.47,1711.59 L1390.20,1711.70 L1393.88,1711.84 L1397.48,1712.01 L1401.03,1712.21 L1404.51,1712.44 L1407.94,1712.71 L1411.29,1713.00 L1414.59,1713.33 L1417.82,1713.70 L1420.99,1714.09 L1424.10,1714.52 L1427.14,1714.98 L1430.12,1715.48 L1433.04,1716.01 L1435.90,1716.57 L1438.69,1717.17 L1441.42,1717.81 L1444.09,1718.48 L1446.69,1719.19 L1449.24,1719.93 L1451.72,1720.71 L1454.13,1721.52 L1456.49,1722.37 L1458.78,1723.25 L1461.01,1724.16 L1463.17,1725.11 L1465.27,1726.08 L1467.31,1727.08 L1469.29,1728.12 L1471.20,1729.18 L1473.06,1730.27 L1474.85,1731.39 L1476.57,1732.53 L1478.23,1733.71 L1479.84,1734.90 L1481.37,1736.12 L1482.85,1737.37 L1484.26,1738.64 L1485.61,1739.93 L1486.90,1741.24 L1488.12,1742.57 L1489.28,1743.93 L1490.38,1745.31 L1491.42,1746.71 L1492.39,1748.14 L1493.30,1749.60 L1494.15,1751.09 L1494.93,1752.62 L1495.65,1754.17 L1496.31,1755.77 L1496.91,1757.40 L1497.44,1759.07 L1497.91,1760.78 L1498.32,1762.53 L1498.67,1764.33 L1498.95,1766.18 L1499.17,1768.07 L1499.32,1770.02 L1499.42,1772.02 L1499.45,1774.07" fill="none" stroke="#800000" stroke-width="3.1" stroke-linejoin="round"/>
<path d="M843.20,1994.93 L847.08,1991.31 L850.96,1987.75 L854.84,1984.26 L858.73,1980.82 L862.61,1977.45 L866.49,1974.14 L870.37,1970.88 L874.25,1967.68 L878.13,1964.54 L882.01,1961.45 L885.89,1958.41 L889.78,1955.42 L893.66,1952.49 L897.54,1949.60 L901.42,1946.76 L905.30,1943.97 L909.18,1941.22 L913.06,1938.52 L916.94,1935.86 L920.83,1933.24 L924.71,1930.67 L928.59,1928.13 L932.47,1925.63 L936.35,1923.17 L940.23,1920.74 L944.11,1918.35 L947.99,1915.99 L951.88,1913.67 L955.76,1911.37 L959.64,1909.11 L963.52,1906.87 L967.40,1904.66 L971.28,1902.48 L975.16,1900.32 L979.04,1898.19 L982.92,1896.08 L986.81,1893.99 L990.69,1891.92 L994.57,1889.86 L998.45,1887.83 L1002.33,1885.81 L1006.21,1883.81 L1010.09,1881.83 L1013.97,1879.85 L1017.86,1877.90 L1021.74,1875.96 L1025.62,1874.03 L1029.50,1872.11 L1033.38,1870.21 L1037.26,1868.33 L1041.14,1866.45 L1045.03,1864.59 L1048.91,1862.74 L1052.79,1860.90 L1056.67,1859.08 L1060.55,1857.26 L1064.43,1855.46 L1068.31,1853.66 L1072.19,1851.88 L1076.08,1850.10 L1079.96,1848.34 L1083.84,1846.58 L1087.72,1844.84 L1091.60,1843.10 L1095.48,1841.37 L1099.36,1839.65 L1103.24,1837.93 L1107.12,1836.23 L1111.01,1834.53 L1114.89,1832.83 L1118.77,1831.14 L1122.65,1829.46 L1126.53,1827.79 L1130.41,1826.12 L1134.29,1824.46 L1138.17,1822.80 L1142.06,1821.15 L1145.94,1819.51 L1149.82,1817.88 L1153.70,1816.25 L1157.58,1814.64 L1161.46,1813.03 L1165.34,1811.43 L1169.23,1809.84 L1173.11,1808.26 L1176.99,1806.69 L1180.87,1805.13 L1184.75,1803.58 L1188.63,1802.04 L1192.51,1800.52 L1196.39,1799.00 L1200.28,1797.50 L1204.16,1796.01 L1208.04,1794.53 L1211.92,1793.06 L1215.80,1791.61 L1219.68,1790.16 L1223.56,1788.74 L1227.44,1787.32 L1231.33,1785.93 L1235.21,1784.54 L1239.09,1783.17 L1242.97,1781.82 L1246.85,1780.48 L1250.73,1779.15 L1254.61,1777.85 L1258.49,1776.55 L1262.38,1775.28 L1266.26,1774.02 L1270.14,1772.78 L1274.02,1771.56 L1277.90,1770.35 L1281.78,1769.17 L1285.66,1768.00 L1289.54,1766.85 L1293.42,1765.71 L1297.31,1764.60 L1301.19,1763.51 L1305.07,1762.44 L1308.95,1761.39 L1312.83,1760.35 L1316.71,1759.34 L1320.59,1758.35 L1324.47,1757.39 L1328.36,1756.44 L1332.24,1755.52 L1336.12,1754.61 L1340.00,1753.74 L1343.88,1752.88 L1347.76,1752.05 L1351.64,1751.25 L1355.53,1750.47 L1359.41,1749.72 L1363.29,1748.99 L1367.17,1748.29 L1371.05,1747.62 L1374.93,1746.97 L1378.81,1746.36 L1382.67,1745.77 L1386.47,1745.21 L1390.20,1744.68 L1393.88,1744.18 L1397.48,1743.71 L1401.03,1743.28 L1404.51,1742.87 L1407.94,1742.50 L1411.29,1742.16 L1414.59,1741.85 L1417.82,1741.58 L1420.99,1741.34 L1424.10,1741.14 L1427.14,1740.97 L1430.12,1740.83 L1433.04,1740.74 L1435.90,1740.67 L1438.69,1740.65 L1441.42,1740.66 L1444.09,1740.72 L1446.69,1740.81 L1449.24,1740.94 L1451.72,1741.10 L1454.13,1741.31 L1456.49,1741.56 L1458.78,1741.85 L1461.01,1742.19 L1463.17,1742.56 L1465.27,1742.98 L1467.31,1743.43 L1469.29,1743.94 L1471.20,1744.48 L1473.06,1745.07 L1474.85,1745.70 L1476.57,1746.37 L1478.23,1747.08 L1479.84,1747.82 L1481.37,1748.60 L1482.85,1749.41 L1484.26,1750.25 L1485.61,1751.13 L1486.90,1752.03 L1488.12,1752.96 L1489.28,1753.92 L1490.38,1754.90 L1491.42,1755.91 L1492.39,1756.94 L1493.30,1757.98 L1494.15,1759.05 L1494.93,1760.14 L1495.65,1761.24 L1496.31,1762.36 L1496.91,1763.49 L1497.44,1764.64 L1497.91,1765.79 L1498.32,1766.96 L1498.67,1768.13 L1498.95,1769.31 L1499.17,1770.50 L1499.32,1771.69 L1499.42,1772.88 L1499.45,1774.07" fill="none" stroke="#008000" stroke-width="3.1" stroke-linejoin="round"/>
<path d="M843.20,2020.22 L847.08,2017.36 L850.96,2014.53 L854.84,2011.74 L858.73,2008.97 L862.61,2006.22 L866.49,2003.51 L870.37,2000.83 L874.25,1998.17 L878.13,1995.54 L882.01,1992.93 L885.89,1990.35 L889.78,1987.79 L893.66,1985.26 L897.54,1982.75 L901.42,1980.27 L905.30,1977.80 L909.18,1975.36 L913.06,1972.94 L916.94,1970.54 L920.83,1968.16 L924.71,1965.80 L928.59,1963.46 L932.47,1961.14 L936.35,1958.83 L940.23,1956.54 L944.11,1954.27 L947.99,1952.02 L951.88,1949.78 L955.76,1947.55 L959.64,1945.34 L963.52,1943.14 L967.40,1940.96 L971.28,1938.78 L975.16,1936.62 L979.04,1934.47 L982.92,1932.34 L986.81,1930.21 L990.69,1928.09 L994.57,1925.98 L998.45,1923.88 L1002.33,1921.78 L1006.21,1919.70 L1010.09,1917.62 L1013.97,1915.55 L1017.86,1913.48 L1021.74,1911.43 L1025.62,1909.38 L1029.50,1907.34 L1033.38,1905.31 L1037.26,1903.29 L1041.14,1901.27 L1045.03,1899.27 L1048.91,1897.27 L1052.79,1895.28 L1056.67,1893.29 L1060.55,1891.32 L1064.43,1889.36 L1068.31,1887.40 L1072.19,1885.45 L1076.08,1883.51 L1079.96,1881.58 L1083.84,1879.66 L1087.72,1877.75 L1091.60,1875.84 L1095.48,1873.95 L1099.36,1872.06 L1103.24,1870.18 L1107.12,1868.32 L1111.01,1866.46 L1114.89,1864.61 L1118.77,1862.77 L1122.65,1860.94 L1126.53,1859.12 L1130.41,1857.30 L1134.29,1855.50 L1138.17,1853.71 L1142.06,1851.93 L1145.94,1850.15 L1149.82,1848.39 L1153.70,1846.64 L1157.58,1844.89 L1161.46,1843.16 L1165.34,1841.43 L1169.23,1839.72 L1173.11,1838.02 L1176.99,1836.32 L1180.87,1834.64 L1184.75,1832.97 L1188.63,1831.31 L1192.51,1829.65 L1196.39,1828.01 L1200.28,1826.38 L1204.16,1824.76 L1208.04,1823.15 L1211.92,1821.55 L1215.80,1819.97 L1219.68,1818.39 L1223.56,1816.82 L1227.44,1815.27 L1231.33,1813.72 L1235.21,1812.19 L1239.09,1810.67 L1242.97,1809.16 L1246.85,1807.66 L1250.73,1806.17 L1254.61,1804.69 L1258.49,1803.23 L1262.38,1801.78 L1266.26,1800.33 L1270.14,1798.90 L1274.02,1797.49 L1277.90,1796.08 L1281.78,1794.68 L1285.66,1793.30 L1289.54,1791.93 L1293.42,1790.57 L1297.31,1789.22 L1301.19,1787.89 L1305.07,1786.57 L1308.95,1785.26 L1312.83,1783.96 L1316.71,1782.67 L1320.59,1781.40 L1324.47,1780.14 L1328.36,1778.89 L1332.24,1777.66 L1336.12,1776.44 L1340.00,1775.24 L1343.88,1774.06 L1347.76,1772.89 L1351.64,1771.75 L1355.53,1770.63 L1359.41,1769.52 L1363.29,1768.44 L1367.17,1767.39 L1371.05,1766.36 L1374.93,1765.35 L1378.81,1764.37 L1382.67,1763.42 L1386.47,1762.50 L1390.20,1761.61 L1393.88,1760.74 L1397.48,1759.91 L1401.03,1759.12 L1404.51,1758.35 L1407.94,1757.62 L1411.29,1756.93 L1414.59,1756.27 L1417.82,1755.65 L1420.99,1755.07 L1424.10,1754.53 L1427.14,1754.03 L1430.12,1753.57 L1433.04,1753.15 L1435.90,1752.78 L1438.69,1752.45 L1441.42,1752.17 L1444.09,1751.94 L1446.69,1751.75 L1449.24,1751.61 L1451.72,1751.52 L1454.13,1751.48 L1456.49,1751.50 L1458.78,1751.56 L1461.01,1751.68 L1463.17,1751.85 L1465.27,1752.07 L1467.31,1752.34 L1469.29,1752.66 L1471.20,1753.03 L1473.06,1753.45 L1474.85,1753.91 L1476.57,1754.42 L1478.23,1754.98 L1479.84,1755.58 L1481.37,1756.22 L1482.85,1756.91 L1484.26,1757.64 L1485.61,1758.41 L1486.90,1759.23 L1488.12,1760.08 L1489.28,1760.97 L1490.38,1761.88 L1491.42,1762.82 L1492.39,1763.77 L1493.30,1764.72 L1494.15,1765.67 L1494.93,1766.61 L1495.65,1767.53 L1496.31,1768.42 L1496.91,1769.28 L1497.44,1770.09 L1497.91,1770.85 L1498.32,1771.55 L1498.67,1772.19 L1498.95,1772.75 L1499.17,1773.22 L1499.32,1773.61 L1499.42,1773.89 L1499.45,1774.07" fill="none" stroke="#0000ff" stroke-width="3.1" stroke-linejoin="round"/>
<line x1="186.90" y1="50.80" x2="186.90" y2="633.00" stroke="#000" stroke-width="2"/>
<line x1="843.15" y1="50.80" x2="843.15" y2="633.00" stroke="#000" stroke-width="2"/>
<line x1="186.90" y1="50.80" x2="843.15" y2="50.80" stroke="#000" stroke-width="1.8"/>
<line x1="186.90" y1="633.00" x2="843.15" y2="633.00" stroke="#000" stroke-width="1.8"/>
<line x1="169.30" y1="633.00" x2="186.90" y2="633.00" stroke="#000" stroke-width="1.8"/>
<line x1="178.10" y1="560.22" x2="186.90" y2="560.22" stroke="#000" stroke-width="1.8"/>
<line x1="169.30" y1="487.45" x2="186.90" y2="487.45" stroke="#000" stroke-width="1.8"/>
<line x1="178.10" y1="414.67" x2="186.90" y2="414.67" stroke="#000" stroke-width="1.8"/>
<line x1="169.30" y1="341.90" x2="186.90" y2="341.90" stroke="#000" stroke-width="1.8"/>
<line x1="178.10" y1="269.13" x2="186.90" y2="269.13" stroke="#000" stroke-width="1.8"/>
<line x1="169.30" y1="196.35" x2="186.90" y2="196.35" stroke="#000" stroke-width="1.8"/>
<line x1="178.10" y1="123.58" x2="186.90" y2="123.58" stroke="#000" stroke-width="1.8"/>
<line x1="169.30" y1="50.80" x2="186.90" y2="50.80" stroke="#000" stroke-width="1.8"/>
<line x1="186.90" y1="633.00" x2="186.90" y2="638.60" stroke="#000" stroke-width="2"/>
<line x1="252.53" y1="633.00" x2="252.53" y2="644.30" stroke="#000" stroke-width="2"/>
<line x1="318.15" y1="633.00" x2="318.15" y2="638.60" stroke="#000" stroke-width="2"/>
<line x1="383.77" y1="633.00" x2="383.77" y2="644.30" stroke="#000" stroke-width="2"/>
<line x1="449.40" y1="633.00" x2="449.40" y2="638.60" stroke="#000" stroke-width="2"/>
<line x1="515.02" y1="633.00" x2="515.02" y2="644.30" stroke="#000" stroke-width="2"/>
<line x1="580.65" y1="633.00" x2="580.65" y2="638.60" stroke="#000" stroke-width="2"/>
<line x1="646.27" y1="633.00" x2="646.27" y2="644.30" stroke="#000" stroke-width="2"/>
<line x1="711.90" y1="633.00" x2="711.90" y2="638.60" stroke="#000" stroke-width="2"/>
<line x1="777.52" y1="633.00" x2="777.52" y2="644.30" stroke="#000" stroke-width="2"/>
<line x1="843.15" y1="633.00" x2="843.15" y2="638.60" stroke="#000" stroke-width="2"/>
<line x1="843.20" y1="50.80" x2="843.20" y2="633.00" stroke="#000" stroke-width="2"/>
<line x1="1499.45" y1="50.80" x2="1499.45" y2="633.00" stroke="#000" stroke-width="2"/>
<line x1="843.20" y1="50.80" x2="1499.45" y2="50.80" stroke="#000" stroke-width="1.8"/>
<line x1="843.20" y1="633.00" x2="1499.45" y2="633.00" stroke="#000" stroke-width="1.8"/>
<line x1="825.60" y1="633.00" x2="843.20" y2="633.00" stroke="#000" stroke-width="1.8"/>
<line x1="834.40" y1="560.22" x2="843.20" y2="560.22" stroke="#000" stroke-width="1.8"/>
<line x1="825.60" y1="487.45" x2="843.20" y2="487.45" stroke="#000" stroke-width="1.8"/>
<line x1="834.40" y1="414.67" x2="843.20" y2="414.67" stroke="#000" stroke-width="1.8"/>
<line x1="825.60" y1="341.90" x2="843.20" y2="341.90" stroke="#000" stroke-width="1.8"/>
<line x1="834.40" y1="269.13" x2="843.20" y2="269.13" stroke="#000" stroke-width="1.8"/>
<line x1="825.60" y1="196.35" x2="843.20" y2="196.35" stroke="#000" stroke-width="1.8"/>
<line x1="834.40" y1="123.58" x2="843.20" y2="123.58" stroke="#000" stroke-width="1.8"/>
<line x1="825.60" y1="50.80" x2="843.20" y2="50.80" stroke="#000" stroke-width="1.8"/>
<line x1="843.20" y1="633.00" x2="843.20" y2="638.60" stroke="#000" stroke-width="2"/>
<line x1="908.83" y1="633.00" x2="908.83" y2="644.30" stroke="#000" stroke-width="2"/>
<line x1="974.45" y1="633.00" x2="974.45" y2="638.60" stroke="#000" stroke-width="2"/>
<line x1="1040.08" y1="633.00" x2="1040.08" y2="644.30" stroke="#000" stroke-width="2"/>
<line x1="1105.70" y1="633.00" x2="1105.70" y2="638.60" stroke="#000" stroke-width="2"/>
<line x1="1171.33" y1="633.00" x2="1171.33" y2="644.30" stroke="#000" stroke-width="2"/>
<line x1="1236.95" y1="633.00" x2="1236.95" y2="638.60" stroke="#000" stroke-width="2"/>
<line x1="1302.58" y1="633.00" x2="1302.58" y2="644.30" stroke="#000" stroke-width="2"/>
<line x1="1368.20" y1="633.00" x2="1368.20" y2="638.60" stroke="#000" stroke-width="2"/>
<line x1="1433.83" y1="633.00" x2="1433.83" y2="644.30" stroke="#000" stroke-width="2"/>
<line x1="1499.45" y1="633.00" x2="1499.45" y2="638.60" stroke="#000" stroke-width="2"/>
<rect x="846.20" y="51.60" width="266.30" height="101.70" fill="#fff" stroke="#000" stroke-width="1.3"/>
<line x1="851.9" y1="71.20" x2="936.4" y2="71.20" stroke="#800000" stroke-width="3.2" stroke-linecap="round"/>
<line x1="851.9" y1="103.90" x2="936.4" y2="103.90" stroke="#008000" stroke-width="3.2" stroke-linecap="round"/>
<line x1="851.9" y1="136.60" x2="936.4" y2="136.60" stroke="#0000ff" stroke-width="3.2" stroke-linecap="round"/>
<line x1="186.90" y1="815.40" x2="186.90" y2="1397.60" stroke="#000" stroke-width="2"/>
<line x1="843.15" y1="815.40" x2="843.15" y2="1397.60" stroke="#000" stroke-width="2"/>
<line x1="186.90" y1="815.40" x2="843.15" y2="815.40" stroke="#000" stroke-width="1.8"/>
<line x1="186.90" y1="1397.60" x2="843.15" y2="1397.60" stroke="#000" stroke-width="1.8"/>
<line x1="169.30" y1="1397.60" x2="186.90" y2="1397.60" stroke="#000" stroke-width="1.8"/>
<line x1="178.10" y1="1349.08" x2="186.90" y2="1349.08" stroke="#000" stroke-width="1.8"/>
<line x1="169.30" y1="1300.57" x2="186.90" y2="1300.57" stroke="#000" stroke-width="1.8"/>
<line x1="178.10" y1="1252.05" x2="186.90" y2="1252.05" stroke="#000" stroke-width="1.8"/>
<line x1="169.30" y1="1203.53" x2="186.90" y2="1203.53" stroke="#000" stroke-width="1.8"/>
<line x1="178.10" y1="1155.02" x2="186.90" y2="1155.02" stroke="#000" stroke-width="1.8"/>
<line x1="169.30" y1="1106.50" x2="186.90" y2="1106.50" stroke="#000" stroke-width="1.8"/>
<line x1="178.10" y1="1057.98" x2="186.90" y2="1057.98" stroke="#000" stroke-width="1.8"/>
<line x1="169.30" y1="1009.47" x2="186.90" y2="1009.47" stroke="#000" stroke-width="1.8"/>
<line x1="178.10" y1="960.95" x2="186.90" y2="960.95" stroke="#000" stroke-width="1.8"/>
<line x1="169.30" y1="912.43" x2="186.90" y2="912.43" stroke="#000" stroke-width="1.8"/>
<line x1="178.10" y1="863.92" x2="186.90" y2="863.92" stroke="#000" stroke-width="1.8"/>
<line x1="169.30" y1="815.40" x2="186.90" y2="815.40" stroke="#000" stroke-width="1.8"/>
<line x1="186.90" y1="1397.60" x2="186.90" y2="1403.20" stroke="#000" stroke-width="2"/>
<line x1="252.53" y1="1397.60" x2="252.53" y2="1408.90" stroke="#000" stroke-width="2"/>
<line x1="318.15" y1="1397.60" x2="318.15" y2="1403.20" stroke="#000" stroke-width="2"/>
<line x1="383.77" y1="1397.60" x2="383.77" y2="1408.90" stroke="#000" stroke-width="2"/>
<line x1="449.40" y1="1397.60" x2="449.40" y2="1403.20" stroke="#000" stroke-width="2"/>
<line x1="515.02" y1="1397.60" x2="515.02" y2="1408.90" stroke="#000" stroke-width="2"/>
<line x1="580.65" y1="1397.60" x2="580.65" y2="1403.20" stroke="#000" stroke-width="2"/>
<line x1="646.27" y1="1397.60" x2="646.27" y2="1408.90" stroke="#000" stroke-width="2"/>
<line x1="711.90" y1="1397.60" x2="711.90" y2="1403.20" stroke="#000" stroke-width="2"/>
<line x1="777.52" y1="1397.60" x2="777.52" y2="1408.90" stroke="#000" stroke-width="2"/>
<line x1="843.15" y1="1397.60" x2="843.15" y2="1403.20" stroke="#000" stroke-width="2"/>
<line x1="843.20" y1="815.40" x2="843.20" y2="1397.60" stroke="#000" stroke-width="2"/>
<line x1="1499.45" y1="815.40" x2="1499.45" y2="1397.60" stroke="#000" stroke-width="2"/>
<line x1="843.20" y1="815.40" x2="1499.45" y2="815.40" stroke="#000" stroke-width="1.8"/>
<line x1="843.20" y1="1397.60" x2="1499.45" y2="1397.60" stroke="#000" stroke-width="1.8"/>
<line x1="825.60" y1="1397.60" x2="843.20" y2="1397.60" stroke="#000" stroke-width="1.8"/>
<line x1="834.40" y1="1349.08" x2="843.20" y2="1349.08" stroke="#000" stroke-width="1.8"/>
<line x1="825.60" y1="1300.57" x2="843.20" y2="1300.57" stroke="#000" stroke-width="1.8"/>
<line x1="834.40" y1="1252.05" x2="843.20" y2="1252.05" stroke="#000" stroke-width="1.8"/>
<line x1="825.60" y1="1203.53" x2="843.20" y2="1203.53" stroke="#000" stroke-width="1.8"/>
<line x1="834.40" y1="1155.02" x2="843.20" y2="1155.02" stroke="#000" stroke-width="1.8"/>
<line x1="825.60" y1="1106.50" x2="843.20" y2="1106.50" stroke="#000" stroke-width="1.8"/>
<line x1="834.40" y1="1057.98" x2="843.20" y2="1057.98" stroke="#000" stroke-width="1.8"/>
<line x1="825.60" y1="1009.47" x2="843.20" y2="1009.47" stroke="#000" stroke-width="1.8"/>
<line x1="834.40" y1="960.95" x2="843.20" y2="960.95" stroke="#000" stroke-width="1.8"/>
<line x1="825.60" y1="912.43" x2="843.20" y2="912.43" stroke="#000" stroke-width="1.8"/>
<line x1="834.40" y1="863.92" x2="843.20" y2="863.92" stroke="#000" stroke-width="1.8"/>
<line x1="825.60" y1="815.40" x2="843.20" y2="815.40" stroke="#000" stroke-width="1.8"/>
<line x1="843.20" y1="1397.60" x2="843.20" y2="1403.20" stroke="#000" stroke-width="2"/>
<line x1="908.83" y1="1397.60" x2="908.83" y2="1408.90" stroke="#000" stroke-width="2"/>
<line x1="974.45" y1="1397.60" x2="974.45" y2="1403.20" stroke="#000" stroke-width="2"/>
<line x1="1040.08" y1="1397.60" x2="1040.08" y2="1408.90" stroke="#000" stroke-width="2"/>
<line x1="1105.70" y1="1397.60" x2="1105.70" y2="1403.20" stroke="#000" stroke-width="2"/>
<line x1="1171.33" y1="1397.60" x2="1171.33" y2="1408.90" stroke="#000" stroke-width="2"/>
<line x1="1236.95" y1="1397.60" x2="1236.95" y2="1403.20" stroke="#000" stroke-width="2"/>
<line x1="1302.58" y1="1397.60" x2="1302.58" y2="1408.90" stroke="#000" stroke-width="2"/>
<line x1="1368.20" y1="1397.60" x2="1368.20" y2="1403.20" stroke="#000" stroke-width="2"/>
<line x1="1433.83" y1="1397.60" x2="1433.83" y2="1408.90" stroke="#000" stroke-width="2"/>
<line x1="1499.45" y1="1397.60" x2="1499.45" y2="1403.20" stroke="#000" stroke-width="2"/>
<rect x="846.20" y="816.20" width="266.30" height="101.70" fill="#fff" stroke="#000" stroke-width="1.3"/>
<line x1="851.9" y1="835.80" x2="936.4" y2="835.80" stroke="#800000" stroke-width="3.2" stroke-linecap="round"/>
<line x1="851.9" y1="868.50" x2="936.4" y2="868.50" stroke="#008000" stroke-width="3.2" stroke-linecap="round"/>
<line x1="851.9" y1="901.20" x2="936.4" y2="901.20" stroke="#0000ff" stroke-width="3.2" stroke-linecap="round"/>
<line x1="186.90" y1="1580.00" x2="186.90" y2="2162.20" stroke="#000" stroke-width="2"/>
<line x1="843.15" y1="1580.00" x2="843.15" y2="2162.20" stroke="#000" stroke-width="2"/>
<line x1="186.90" y1="1580.00" x2="843.15" y2="1580.00" stroke="#000" stroke-width="1.8"/>
<line x1="186.90" y1="2162.20" x2="843.15" y2="2162.20" stroke="#000" stroke-width="1.8"/>
<line x1="169.30" y1="2162.20" x2="186.90" y2="2162.20" stroke="#000" stroke-width="1.8"/>
<line x1="178.10" y1="2113.68" x2="186.90" y2="2113.68" stroke="#000" stroke-width="1.8"/>
<line x1="169.30" y1="2065.17" x2="186.90" y2="2065.17" stroke="#000" stroke-width="1.8"/>
<line x1="178.10" y1="2016.65" x2="186.90" y2="2016.65" stroke="#000" stroke-width="1.8"/>
<line x1="169.30" y1="1968.13" x2="186.90" y2="1968.13" stroke="#000" stroke-width="1.8"/>
<line x1="178.10" y1="1919.62" x2="186.90" y2="1919.62" stroke="#000" stroke-width="1.8"/>
<line x1="169.30" y1="1871.10" x2="186.90" y2="1871.10" stroke="#000" stroke-width="1.8"/>
<line x1="178.10" y1="1822.58" x2="186.90" y2="1822.58" stroke="#000" stroke-width="1.8"/>
<line x1="169.30" y1="1774.07" x2="186.90" y2="1774.07" stroke="#000" stroke-width="1.8"/>
<line x1="178.10" y1="1725.55" x2="186.90" y2="1725.55" stroke="#000" stroke-width="1.8"/>
<line x1="169.30" y1="1677.03" x2="186.90" y2="1677.03" stroke="#000" stroke-width="1.8"/>
<line x1="178.10" y1="1628.52" x2="186.90" y2="1628.52" stroke="#000" stroke-width="1.8"/>
<line x1="169.30" y1="1580.00" x2="186.90" y2="1580.00" stroke="#000" stroke-width="1.8"/>
<line x1="186.90" y1="2162.20" x2="186.90" y2="2167.80" stroke="#000" stroke-width="2"/>
<line x1="252.53" y1="2162.20" x2="252.53" y2="2173.50" stroke="#000" stroke-width="2"/>
<line x1="318.15" y1="2162.20" x2="318.15" y2="2167.80" stroke="#000" stroke-width="2"/>
<line x1="383.77" y1="2162.20" x2="383.77" y2="2173.50" stroke="#000" stroke-width="2"/>
<line x1="449.40" y1="2162.20" x2="449.40" y2="2167.80" stroke="#000" stroke-width="2"/>
<line x1="515.02" y1="2162.20" x2="515.02" y2="2173.50" stroke="#000" stroke-width="2"/>
<line x1="580.65" y1="2162.20" x2="580.65" y2="2167.80" stroke="#000" stroke-width="2"/>
<line x1="646.27" y1="2162.20" x2="646.27" y2="2173.50" stroke="#000" stroke-width="2"/>
<line x1="711.90" y1="2162.20" x2="711.90" y2="2167.80" stroke="#000" stroke-width="2"/>
<line x1="777.52" y1="2162.20" x2="777.52" y2="2173.50" stroke="#000" stroke-width="2"/>
<line x1="843.15" y1="2162.20" x2="843.15" y2="2167.80" stroke="#000" stroke-width="2"/>
<line x1="843.20" y1="1580.00" x2="843.20" y2="2162.20" stroke="#000" stroke-width="2"/>
<line x1="1499.45" y1="1580.00" x2="1499.45" y2="2162.20" stroke="#000" stroke-width="2"/>
<line x1="843.20" y1="1580.00" x2="1499.45" y2="1580.00" stroke="#000" stroke-width="1.8"/>
<line x1="843.20" y1="2162.20" x2="1499.45" y2="2162.20" stroke="#000" stroke-width="1.8"/>
<line x1="825.60" y1="2162.20" x2="843.20" y2="2162.20" stroke="#000" stroke-width="1.8"/>
<line x1="834.40" y1="2113.68" x2="843.20" y2="2113.68" stroke="#000" stroke-width="1.8"/>
<line x1="825.60" y1="2065.17" x2="843.20" y2="2065.17" stroke="#000" stroke-width="1.8"/>
<line x1="834.40" y1="2016.65" x2="843.20" y2="2016.65" stroke="#000" stroke-width="1.8"/>
<line x1="825.60" y1="1968.13" x2="843.20" y2="1968.13" stroke="#000" stroke-width="1.8"/>
<line x1="834.40" y1="1919.62" x2="843.20" y2="1919.62" stroke="#000" stroke-width="1.8"/>
<line x1="825.60" y1="1871.10" x2="843.20" y2="1871.10" stroke="#000" stroke-width="1.8"/>
<line x1="834.40" y1="1822.58" x2="843.20" y2="1822.58" stroke="#000" stroke-width="1.8"/>
<line x1="825.60" y1="1774.07" x2="843.20" y2="1774.07" stroke="#000" stroke-width="1.8"/>
<line x1="834.40" y1="1725.55" x2="843.20" y2="1725.55" stroke="#000" stroke-width="1.8"/>
<line x1="825.60" y1="1677.03" x2="843.20" y2="1677.03" stroke="#000" stroke-width="1.8"/>
<line x1="834.40" y1="1628.52" x2="843.20" y2="1628.52" stroke="#000" stroke-width="1.8"/>
<line x1="825.60" y1="1580.00" x2="843.20" y2="1580.00" stroke="#000" stroke-width="1.8"/>
<line x1="843.20" y1="2162.20" x2="843.20" y2="2167.80" stroke="#000" stroke-width="2"/>
<line x1="908.83" y1="2162.20" x2="908.83" y2="2173.50" stroke="#000" stroke-width="2"/>
<line x1="974.45" y1="2162.20" x2="974.45" y2="2167.80" stroke="#000" stroke-width="2"/>
<line x1="1040.08" y1="2162.20" x2="1040.08" y2="2173.50" stroke="#000" stroke-width="2"/>
<line x1="1105.70" y1="2162.20" x2="1105.70" y2="2167.80" stroke="#000" stroke-width="2"/>
<line x1="1171.33" y1="2162.20" x2="1171.33" y2="2173.50" stroke="#000" stroke-width="2"/>
<line x1="1236.95" y1="2162.20" x2="1236.95" y2="2167.80" stroke="#000" stroke-width="2"/>
<line x1="1302.58" y1="2162.20" x2="1302.58" y2="2173.50" stroke="#000" stroke-width="2"/>
<line x1="1368.20" y1="2162.20" x2="1368.20" y2="2167.80" stroke="#000" stroke-width="2"/>
<line x1="1433.83" y1="2162.20" x2="1433.83" y2="2173.50" stroke="#000" stroke-width="2"/>
<line x1="1499.45" y1="2162.20" x2="1499.45" y2="2167.80" stroke="#000" stroke-width="2"/>
<rect x="846.20" y="1580.80" width="266.30" height="101.70" fill="#fff" stroke="#000" stroke-width="1.3"/>
<line x1="851.9" y1="1600.40" x2="936.4" y2="1600.40" stroke="#800000" stroke-width="3.2" stroke-linecap="round"/>
<line x1="851.9" y1="1633.10" x2="936.4" y2="1633.10" stroke="#008000" stroke-width="3.2" stroke-linecap="round"/>
<line x1="851.9" y1="1665.80" x2="936.4" y2="1665.80" stroke="#0000ff" stroke-width="3.2" stroke-linecap="round"/>
<g fill="#000" stroke="#000" stroke-width="1.6">
<text transform="matrix(0.33500,0,0,0.22300,91.48,639.69)" font-family="Liberation Sans" font-size="100">0.85</text>
<text transform="matrix(0.33500,0,0,0.22300,91.48,494.14)" font-family="Liberation Sans" font-size="100">0.90</text>
<text transform="matrix(0.33500,0,0,0.22300,91.48,348.59)" font-family="Liberation Sans" font-size="100">0.95</text>
<text transform="matrix(0.33500,0,0,0.22300,91.48,203.04)" font-family="Liberation Sans" font-size="100">1.00</text>
<text transform="matrix(0.33500,0,0,0.22300,91.48,57.49)" font-family="Liberation Sans" font-size="100">1.05</text>
<text transform="matrix(0.33500,0,0,0.22300,224.37,669.01)" font-family="Liberation Sans" font-size="100">150</text>
<text transform="matrix(0.33500,0,0,0.22300,355.62,669.01)" font-family="Liberation Sans" font-size="100">170</text>
<text transform="matrix(0.33500,0,0,0.22300,486.87,669.01)" font-family="Liberation Sans" font-size="100">190</text>
<text transform="matrix(0.33500,0,0,0.22300,618.53,669.01)" font-family="Liberation Sans" font-size="100">210</text>
<text transform="matrix(0.33500,0,0,0.22300,749.78,669.01)" font-family="Liberation Sans" font-size="100">230</text>
<text transform="matrix(0.33500,0,0,0.22300,880.67,669.01)" font-family="Liberation Sans" font-size="100">150</text>
<text transform="matrix(0.33500,0,0,0.22300,1011.92,669.01)" font-family="Liberation Sans" font-size="100">170</text>
<text transform="matrix(0.33500,0,0,0.22300,1143.17,669.01)" font-family="Liberation Sans" font-size="100">190</text>
<text transform="matrix(0.33500,0,0,0.22300,1274.84,669.01)" font-family="Liberation Sans" font-size="100">210</text>
<text transform="matrix(0.33500,0,0,0.22300,1406.09,669.01)" font-family="Liberation Sans" font-size="100">230</text>
<text transform="matrix(0.37783,0,0,0.23962,310.51,17.80)" font-family="Liberation Sans" font-size="100">Axial field,</text>
<text transform="matrix(0.40656,0,0,0.25077,494.61,17.90)" font-family="Liberation Serif" font-style="italic" font-size="100">Γ</text>
<text transform="matrix(0.25591,0,0,0.17099,518.74,24.30)" font-family="Liberation Serif" font-size="100">AD</text>
<text transform="matrix(0.55464,0,0,0.25620,570.34,17.24)" font-family="Liberation Sans" font-size="100">≠</text>
<text transform="matrix(0.37053,0,0,0.25070,598.22,17.65)" font-family="Liberation Sans" font-size="100">0</text>
<text transform="matrix(0.45263,0,0,0.33478,617.50,16.92)" font-family="Liberation Sans" font-size="100">,</text>
<text transform="matrix(0.34545,0,0,0.22740,638.45,18.02)" font-family="DejaVu Serif" font-style="italic" font-size="100">γ</text>
<text transform="matrix(0.43226,0,0,0.24400,664.64,19.50)" font-family="Liberation Serif" font-size="100">=</text>
<text transform="matrix(0.37436,0,0,0.25000,695.90,17.73)" font-family="Liberation Serif" font-size="100">0.7</text>
<text transform="matrix(0.38719,0,0,0.23962,979.03,20.80)" font-family="Liberation Sans" font-size="100">Toroidal field,</text>
<text transform="matrix(0.41311,0,0,0.25077,1219.11,20.90)" font-family="Liberation Serif" font-style="italic" font-size="100">Γ</text>
<text transform="matrix(0.24875,0,0,0.17099,1243.65,27.30)" font-family="Liberation Serif" font-size="100">AD</text>
<text transform="matrix(0.55464,0,0,0.25620,1294.64,20.24)" font-family="Liberation Sans" font-size="100">≠</text>
<text transform="matrix(0.37053,0,0,0.25070,1322.52,20.65)" font-family="Liberation Sans" font-size="100">0</text>
<text transform="matrix(0.45263,0,0,0.33478,1342.10,19.92)" font-family="Liberation Sans" font-size="100">,</text>
<text transform="matrix(0.34545,0,0,0.22740,1363.35,21.02)" font-family="DejaVu Serif" font-style="italic" font-size="100">γ</text>
<text transform="matrix(0.43441,0,0,0.24400,1389.33,22.50)" font-family="Liberation Serif" font-size="100">=</text>
<text transform="matrix(0.37436,0,0,0.25000,1420.80,20.73)" font-family="Liberation Serif" font-size="100">0.7</text>
<text transform="matrix(0.53061,0,0,0.38750,494.61,716.02)" font-family="Liberation Sans" font-size="100">-</text>
<text transform="matrix(0.46726,0,0,0.30189,511.17,714.00)" font-family="Liberation Sans" font-style="italic" font-size="100">x</text>
<text transform="matrix(0.53061,0,0,0.38750,1150.91,716.02)" font-family="Liberation Sans" font-size="100">-</text>
<text transform="matrix(0.46726,0,0,0.30189,1167.47,714.00)" font-family="Liberation Sans" font-style="italic" font-size="100">x</text>
<text transform="matrix(0,-0.32706,0.56296,0,39.14,384.63)" font-family="Liberation Sans" font-size="100">u</text>
<text transform="matrix(0,-0.38938,0.51509,0,38.30,350.44)" font-family="Liberation Sans" font-style="italic" font-size="100">x</text>
<text transform="matrix(0,-0.34182,0.52109,0,37.78,311.40)" font-family="Liberation Sans" font-size="100">/</text>
<text transform="matrix(0,-0.33882,0.56296,0,39.14,294.10)" font-family="Liberation Sans" font-size="100">u</text>
<text transform="matrix(0,-0.20632,0.33662,0,51.56,274.93)" font-family="Liberation Sans" font-size="100">0</text>
<text transform="matrix(0,-0.38113,0.52513,0,38.27,359.39)" font-family="Liberation Sans" font-size="100">(</text>
<text transform="matrix(0,-0.30769,0.52513,0,38.27,329.01)" font-family="Liberation Sans" font-size="100">)</text>
<text transform="matrix(0.42198,0,0,0.25275,947.62,79.90)" font-family="Liberation Serif" font-style="italic" font-size="100">κ</text>
<text transform="matrix(0.37113,0,0,0.22500,979.34,78.73)" font-family="Liberation Sans" font-size="100">=</text>
<text transform="matrix(0.37769,0,0,0.24930,1011.89,79.85)" font-family="Liberation Sans" font-size="100">0.003</text>
<text transform="matrix(0.42198,0,0,0.25275,947.62,112.60)" font-family="Liberation Serif" font-style="italic" font-size="100">κ</text>
<text transform="matrix(0.37113,0,0,0.22500,979.34,111.43)" font-family="Liberation Sans" font-size="100">=</text>
<text transform="matrix(0.37769,0,0,0.24930,1011.89,112.55)" font-family="Liberation Sans" font-size="100">0.005</text>
<text transform="matrix(0.42198,0,0,0.25275,947.62,145.30)" font-family="Liberation Serif" font-style="italic" font-size="100">κ</text>
<text transform="matrix(0.37113,0,0,0.22500,979.34,144.12)" font-family="Liberation Sans" font-size="100">=</text>
<text transform="matrix(0.37769,0,0,0.24930,1011.89,145.25)" font-family="Liberation Sans" font-size="100">0.007</text>
<text transform="matrix(0.33500,0,0,0.22300,91.48,1404.29)" font-family="Liberation Sans" font-size="100">0.80</text>
<text transform="matrix(0.33500,0,0,0.22300,91.48,1307.26)" font-family="Liberation Sans" font-size="100">0.85</text>
<text transform="matrix(0.33500,0,0,0.22300,91.48,1210.23)" font-family="Liberation Sans" font-size="100">0.90</text>
<text transform="matrix(0.33500,0,0,0.22300,91.48,1113.19)" font-family="Liberation Sans" font-size="100">0.95</text>
<text transform="matrix(0.33500,0,0,0.22300,91.48,1016.16)" font-family="Liberation Sans" font-size="100">1.00</text>
<text transform="matrix(0.33500,0,0,0.22300,91.48,919.13)" font-family="Liberation Sans" font-size="100">1.05</text>
<text transform="matrix(0.33500,0,0,0.22300,91.48,822.09)" font-family="Liberation Sans" font-size="100">1.10</text>
<text transform="matrix(0.33500,0,0,0.22300,224.37,1433.61)" font-family="Liberation Sans" font-size="100">150</text>
<text transform="matrix(0.33500,0,0,0.22300,355.62,1433.61)" font-family="Liberation Sans" font-size="100">170</text>
<text transform="matrix(0.33500,0,0,0.22300,486.87,1433.61)" font-family="Liberation Sans" font-size="100">190</text>
<text transform="matrix(0.33500,0,0,0.22300,618.53,1433.61)" font-family="Liberation Sans" font-size="100">210</text>
<text transform="matrix(0.33500,0,0,0.22300,749.78,1433.61)" font-family="Liberation Sans" font-size="100">230</text>
<text transform="matrix(0.33500,0,0,0.22300,880.67,1433.61)" font-family="Liberation Sans" font-size="100">150</text>
<text transform="matrix(0.33500,0,0,0.22300,1011.92,1433.61)" font-family="Liberation Sans" font-size="100">170</text>
<text transform="matrix(0.33500,0,0,0.22300,1143.17,1433.61)" font-family="Liberation Sans" font-size="100">190</text>
<text transform="matrix(0.33500,0,0,0.22300,1274.84,1433.61)" font-family="Liberation Sans" font-size="100">210</text>
<text transform="matrix(0.33500,0,0,0.22300,1406.09,1433.61)" font-family="Liberation Sans" font-size="100">230</text>
<text transform="matrix(0.37783,0,0,0.23962,310.51,782.40)" font-family="Liberation Sans" font-size="100">Axial field,</text>
<text transform="matrix(0.40656,0,0,0.25077,494.61,782.50)" font-family="Liberation Serif" font-style="italic" font-size="100">Γ</text>
<text transform="matrix(0.25591,0,0,0.17099,518.74,788.90)" font-family="Liberation Serif" font-size="100">AD</text>
<text transform="matrix(0.55464,0,0,0.25620,570.34,781.84)" font-family="Liberation Sans" font-size="100">≠</text>
<text transform="matrix(0.37053,0,0,0.25070,598.22,782.25)" font-family="Liberation Sans" font-size="100">0</text>
<text transform="matrix(0.45263,0,0,0.33478,617.50,781.52)" font-family="Liberation Sans" font-size="100">,</text>
<text transform="matrix(0.34545,0,0,0.22740,638.45,782.62)" font-family="DejaVu Serif" font-style="italic" font-size="100">γ</text>
<text transform="matrix(0.43226,0,0,0.24400,664.64,784.10)" font-family="Liberation Serif" font-size="100">=</text>
<text transform="matrix(0.37436,0,0,0.25000,695.90,782.33)" font-family="Liberation Serif" font-size="100">0.3</text>
<text transform="matrix(0.38719,0,0,0.23962,976.83,785.40)" font-family="Liberation Sans" font-size="100">Toroidal field,</text>
<text transform="matrix(0.41311,0,0,0.25077,1216.91,785.50)" font-family="Liberation Serif" font-style="italic" font-size="100">Γ</text>
<text transform="matrix(0.24875,0,0,0.17099,1241.45,791.90)" font-family="Liberation Serif" font-size="100">AD</text>
<text transform="matrix(0.55464,0,0,0.25620,1292.44,784.84)" font-family="Liberation Sans" font-size="100">≠</text>
<text transform="matrix(0.37053,0,0,0.25070,1320.32,785.25)" font-family="Liberation Sans" font-size="100">0</text>
<text transform="matrix(0.45263,0,0,0.33478,1339.90,784.52)" font-family="Liberation Sans" font-size="100">,</text>
<text transform="matrix(0.34545,0,0,0.22740,1361.15,785.62)" font-family="DejaVu Serif" font-style="italic" font-size="100">γ</text>
<text transform="matrix(0.43441,0,0,0.24400,1387.13,787.10)" font-family="Liberation Serif" font-size="100">=</text>
<text transform="matrix(0.37436,0,0,0.25000,1418.60,785.33)" font-family="Liberation Serif" font-size="100">0.3</text>
<text transform="matrix(0.53061,0,0,0.38750,494.61,1480.62)" font-family="Liberation Sans" font-size="100">-</text>
<text transform="matrix(0.46726,0,0,0.30189,511.17,1478.60)" font-family="Liberation Sans" font-style="italic" font-size="100">x</text>
<text transform="matrix(0.53061,0,0,0.38750,1150.91,1480.62)" font-family="Liberation Sans" font-size="100">-</text>
<text transform="matrix(0.46726,0,0,0.30189,1167.47,1478.60)" font-family="Liberation Sans" font-style="italic" font-size="100">x</text>
<text transform="matrix(0,-0.32706,0.56296,0,39.14,1149.23)" font-family="Liberation Sans" font-size="100">u</text>
<text transform="matrix(0,-0.38938,0.51509,0,38.30,1115.04)" font-family="Liberation Sans" font-style="italic" font-size="100">x</text>
<text transform="matrix(0,-0.34182,0.52109,0,37.78,1076.00)" font-family="Liberation Sans" font-size="100">/</text>
<text transform="matrix(0,-0.33882,0.56296,0,39.14,1058.70)" font-family="Liberation Sans" font-size="100">u</text>
<text transform="matrix(0,-0.20632,0.33662,0,51.56,1039.53)" font-family="Liberation Sans" font-size="100">0</text>
<text transform="matrix(0,-0.38113,0.52513,0,38.27,1123.99)" font-family="Liberation Sans" font-size="100">(</text>
<text transform="matrix(0,-0.30769,0.52513,0,38.27,1093.61)" font-family="Liberation Sans" font-size="100">)</text>
<text transform="matrix(0.42198,0,0,0.25275,947.62,844.50)" font-family="Liberation Serif" font-style="italic" font-size="100">κ</text>
<text transform="matrix(0.37113,0,0,0.22500,979.34,843.32)" font-family="Liberation Sans" font-size="100">=</text>
<text transform="matrix(0.37769,0,0,0.24930,1011.89,844.45)" font-family="Liberation Sans" font-size="100">0.003</text>
<text transform="matrix(0.42198,0,0,0.25275,947.62,877.20)" font-family="Liberation Serif" font-style="italic" font-size="100">κ</text>
<text transform="matrix(0.37113,0,0,0.22500,979.34,876.03)" font-family="Liberation Sans" font-size="100">=</text>
<text transform="matrix(0.37769,0,0,0.24930,1011.89,877.15)" font-family="Liberation Sans" font-size="100">0.005</text>
<text transform="matrix(0.42198,0,0,0.25275,947.62,909.90)" font-family="Liberation Serif" font-style="italic" font-size="100">κ</text>
<text transform="matrix(0.37113,0,0,0.22500,979.34,908.73)" font-family="Liberation Sans" font-size="100">=</text>
<text transform="matrix(0.37769,0,0,0.24930,1011.89,909.85)" font-family="Liberation Sans" font-size="100">0.007</text>
<text transform="matrix(0.33500,0,0,0.22300,110.24,2168.89)" font-family="Liberation Sans" font-size="100">0.6</text>
<text transform="matrix(0.33500,0,0,0.22300,110.41,2071.86)" font-family="Liberation Sans" font-size="100">0.7</text>
<text transform="matrix(0.33500,0,0,0.22300,110.24,1974.83)" font-family="Liberation Sans" font-size="100">0.8</text>
<text transform="matrix(0.33500,0,0,0.22300,110.41,1877.79)" font-family="Liberation Sans" font-size="100">0.9</text>
<text transform="matrix(0.33500,0,0,0.22300,110.08,1780.76)" font-family="Liberation Sans" font-size="100">1.0</text>
<text transform="matrix(0.33500,0,0,0.22300,110.41,1683.73)" font-family="Liberation Sans" font-size="100">1.1</text>
<text transform="matrix(0.33500,0,0,0.22300,110.41,1586.69)" font-family="Liberation Sans" font-size="100">1.2</text>
<text transform="matrix(0.33500,0,0,0.22300,224.37,2198.21)" font-family="Liberation Sans" font-size="100">150</text>
<text transform="matrix(0.33500,0,0,0.22300,355.62,2198.21)" font-family="Liberation Sans" font-size="100">170</text>
<text transform="matrix(0.33500,0,0,0.22300,486.87,2198.21)" font-family="Liberation Sans" font-size="100">190</text>
<text transform="matrix(0.33500,0,0,0.22300,618.53,2198.21)" font-family="Liberation Sans" font-size="100">210</text>
<text transform="matrix(0.33500,0,0,0.22300,749.78,2198.21)" font-family="Liberation Sans" font-size="100">230</text>
<text transform="matrix(0.33500,0,0,0.22300,880.67,2198.21)" font-family="Liberation Sans" font-size="100">150</text>
<text transform="matrix(0.33500,0,0,0.22300,1011.92,2198.21)" font-family="Liberation Sans" font-size="100">170</text>
<text transform="matrix(0.33500,0,0,0.22300,1143.17,2198.21)" font-family="Liberation Sans" font-size="100">190</text>
<text transform="matrix(0.33500,0,0,0.22300,1274.84,2198.21)" font-family="Liberation Sans" font-size="100">210</text>
<text transform="matrix(0.33500,0,0,0.22300,1406.09,2198.21)" font-family="Liberation Sans" font-size="100">230</text>
<text transform="matrix(0.37783,0,0,0.23962,310.51,1547.00)" font-family="Liberation Sans" font-size="100">Axial field,</text>
<text transform="matrix(0.40656,0,0,0.25077,494.61,1547.10)" font-family="Liberation Serif" font-style="italic" font-size="100">Γ</text>
<text transform="matrix(0.25591,0,0,0.17099,518.74,1553.50)" font-family="Liberation Serif" font-size="100">AD</text>
<text transform="matrix(0.55464,0,0,0.25620,570.34,1546.44)" font-family="Liberation Sans" font-size="100">≠</text>
<text transform="matrix(0.37053,0,0,0.25070,598.22,1546.85)" font-family="Liberation Sans" font-size="100">0</text>
<text transform="matrix(0.45263,0,0,0.33478,617.50,1546.12)" font-family="Liberation Sans" font-size="100">,</text>
<text transform="matrix(0.34545,0,0,0.22740,638.45,1547.22)" font-family="DejaVu Serif" font-style="italic" font-size="100">γ</text>
<text transform="matrix(0.43226,0,0,0.24400,664.64,1548.70)" font-family="Liberation Serif" font-size="100">=</text>
<text transform="matrix(0.37436,0,0,0.25000,695.90,1546.93)" font-family="Liberation Serif" font-size="100">0.01</text>
<text transform="matrix(0.38719,0,0,0.23962,977.43,1550.00)" font-family="Liberation Sans" font-size="100">Toroidal field,</text>
<text transform="matrix(0.41311,0,0,0.25077,1217.51,1550.10)" font-family="Liberation Serif" font-style="italic" font-size="100">Γ</text>
<text transform="matrix(0.24875,0,0,0.17099,1242.05,1556.50)" font-family="Liberation Serif" font-size="100">AD</text>
<text transform="matrix(0.55464,0,0,0.25620,1293.04,1549.44)" font-family="Liberation Sans" font-size="100">≠</text>
<text transform="matrix(0.37053,0,0,0.25070,1320.92,1549.85)" font-family="Liberation Sans" font-size="100">0</text>
<text transform="matrix(0.45263,0,0,0.33478,1340.50,1549.12)" font-family="Liberation Sans" font-size="100">,</text>
<text transform="matrix(0.34545,0,0,0.22740,1361.75,1550.22)" font-family="DejaVu Serif" font-style="italic" font-size="100">γ</text>
<text transform="matrix(0.43441,0,0,0.24400,1387.73,1551.70)" font-family="Liberation Serif" font-size="100">=</text>
<text transform="matrix(0.37436,0,0,0.25000,1419.20,1549.93)" font-family="Liberation Serif" font-size="100">0.01</text>
<text transform="matrix(0.53061,0,0,0.38750,494.61,2245.22)" font-family="Liberation Sans" font-size="100">-</text>
<text transform="matrix(0.46726,0,0,0.30189,511.17,2243.20)" font-family="Liberation Sans" font-style="italic" font-size="100">x</text>
<text transform="matrix(0.53061,0,0,0.38750,1150.91,2245.22)" font-family="Liberation Sans" font-size="100">-</text>
<text transform="matrix(0.46726,0,0,0.30189,1167.47,2243.20)" font-family="Liberation Sans" font-style="italic" font-size="100">x</text>
<text transform="matrix(0,-0.32706,0.56296,0,58.44,1913.83)" font-family="Liberation Sans" font-size="100">u</text>
<text transform="matrix(0,-0.38938,0.51509,0,57.60,1879.64)" font-family="Liberation Sans" font-style="italic" font-size="100">x</text>
<text transform="matrix(0,-0.34182,0.52109,0,57.08,1840.60)" font-family="Liberation Sans" font-size="100">/</text>
<text transform="matrix(0,-0.33882,0.56296,0,58.44,1823.30)" font-family="Liberation Sans" font-size="100">u</text>
<text transform="matrix(0,-0.20632,0.33662,0,70.86,1804.13)" font-family="Liberation Sans" font-size="100">0</text>
<text transform="matrix(0,-0.38113,0.52513,0,57.57,1888.59)" font-family="Liberation Sans" font-size="100">(</text>
<text transform="matrix(0,-0.30769,0.52513,0,57.57,1858.21)" font-family="Liberation Sans" font-size="100">)</text>
<text transform="matrix(0.42198,0,0,0.25275,947.62,1609.10)" font-family="Liberation Serif" font-style="italic" font-size="100">κ</text>
<text transform="matrix(0.37113,0,0,0.22500,979.34,1607.93)" font-family="Liberation Sans" font-size="100">=</text>
<text transform="matrix(0.37769,0,0,0.24930,1011.89,1609.05)" font-family="Liberation Sans" font-size="100">0.003</text>
<text transform="matrix(0.42198,0,0,0.25275,947.62,1641.80)" font-family="Liberation Serif" font-style="italic" font-size="100">κ</text>
<text transform="matrix(0.37113,0,0,0.22500,979.34,1640.62)" font-family="Liberation Sans" font-size="100">=</text>
<text transform="matrix(0.37769,0,0,0.24930,1011.89,1641.75)" font-family="Liberation Sans" font-size="100">0.005</text>
<text transform="matrix(0.42198,0,0,0.25275,947.62,1674.50)" font-family="Liberation Serif" font-style="italic" font-size="100">κ</text>
<text transform="matrix(0.37113,0,0,0.22500,979.34,1673.32)" font-family="Liberation Sans" font-size="100">=</text>
<text transform="matrix(0.37769,0,0,0.24930,1011.89,1674.45)" font-family="Liberation Sans" font-size="100">0.007</text>
</g>
</svg></body></html>
